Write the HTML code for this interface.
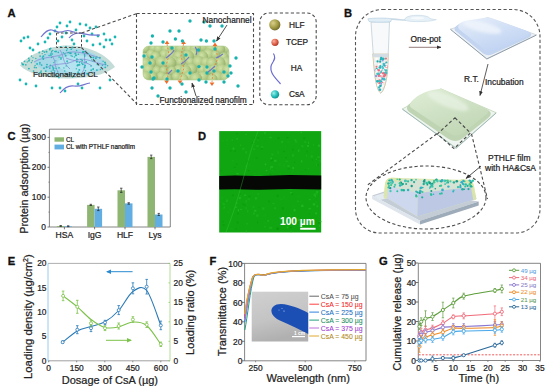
<!DOCTYPE html>
<html><head><meta charset="utf-8"><style>
html,body{margin:0;padding:0;background:#fff;}
body{width:550px;height:391px;overflow:hidden;}
svg{display:block;}
text{font-family:"Liberation Sans",sans-serif;}
</style></head><body>
<svg width="550" height="391" viewBox="0 0 550 391" font-family="Liberation Sans, sans-serif">
<defs>
<radialGradient id="gHLF" cx="0.35" cy="0.35" r="0.7"><stop offset="0" stop-color="#d8d08a"/><stop offset="0.6" stop-color="#a39a45"/><stop offset="1" stop-color="#6e6a28"/></radialGradient>
<radialGradient id="gTCEP" cx="0.35" cy="0.35" r="0.7"><stop offset="0" stop-color="#f7b0a0"/><stop offset="0.6" stop-color="#e06048"/><stop offset="1" stop-color="#a83a28"/></radialGradient>
<radialGradient id="gCsA" cx="0.35" cy="0.35" r="0.7"><stop offset="0" stop-color="#9af0ec"/><stop offset="0.6" stop-color="#20bcb8"/><stop offset="1" stop-color="#108a88"/></radialGradient>
<radialGradient id="gLens" cx="0.5" cy="0.7" r="0.6"><stop offset="0" stop-color="#a8e4ee"/><stop offset="0.6" stop-color="#b4dce0"/><stop offset="1" stop-color="#c8dcd8"/></radialGradient>
<linearGradient id="gSheetB" x1="0" y1="0" x2="0.6" y2="1"><stop offset="0" stop-color="#e6eef9"/><stop offset="0.5" stop-color="#d2e0f6"/><stop offset="1" stop-color="#bed2f2"/></linearGradient>
<linearGradient id="gSheetG" x1="0" y1="0" x2="0.6" y2="1"><stop offset="0" stop-color="#dfeed6"/><stop offset="0.5" stop-color="#d0e2c6"/><stop offset="1" stop-color="#c2d8b6"/></linearGradient>
<linearGradient id="gPhoto" x1="0" y1="0" x2="0.25" y2="1"><stop offset="0" stop-color="#d0d0d0"/><stop offset="0.6" stop-color="#c4c4c4"/><stop offset="1" stop-color="#b0b0b0"/></linearGradient>
<linearGradient id="gTube" x1="0" y1="0" x2="1" y2="0"><stop offset="0" stop-color="#dfe8ee"/><stop offset="0.5" stop-color="#f6f9fb"/><stop offset="1" stop-color="#d6e2ea"/></linearGradient>
<linearGradient id="gBlock" x1="0" y1="0" x2="0" y2="1"><stop offset="0" stop-color="#cce0ac"/><stop offset="1" stop-color="#b0c890"/></linearGradient>
<marker id="ah" viewBox="0 0 10 10" refX="9" refY="5" markerWidth="6" markerHeight="6" orient="auto"><path d="M0,1 L10,5 L0,9 z" fill="#333"/></marker>
</defs>
<text x="7.5" y="16.6" font-size="11.2" text-anchor="start" fill="#111" font-weight="bold" stroke="#111" stroke-width="0.3" >A</text>
<path d="M20,65.5 C26,57 40,49 60,46 C82,43.5 105,52 115,67 C105,75 88,78.5 68,78.5 C46,78.5 28,74 20,65.5 Z" fill="#c4dcd8"/>
<path d="M34,62 C42,53 56,49 72,48.5 C90,49 102,57 107,66 C99,73 86,75.5 70,75.5 C54,75.5 40,71 34,62 Z" fill="#a6d8e8"/>
<path d="M58,62 C64,55 74,54 86,56 C96,59 100,64 100,68 C92,72 82,73.5 72,72.5 C62,71 57,66 58,62 Z" fill="#b4e4f0"/>
<path d="M34,62 C44,56 56,58 66,53 C76,50 88,54 100,58" stroke="#8a90d6" stroke-width="1" fill="none" opacity="0.8"/>
<path d="M46,68 C56,62 66,66 76,60 C86,57 94,63 106,65" stroke="#8a90d6" stroke-width="1" fill="none" opacity="0.8"/>
<path d="M60,50 C64,56 62,62 70,69" stroke="#8a90d6" stroke-width="1" fill="none" opacity="0.8"/>
<path d="M86,50 C82,58 88,64 82,73" stroke="#8a90d6" stroke-width="1" fill="none" opacity="0.8"/>
<path d="M66,58 C74,62 84,60 92,66" stroke="#8a90d6" stroke-width="1" fill="none" opacity="0.8"/>
<path d="M52,56 C56,60 54,66 58,72" stroke="#8a90d6" stroke-width="1" fill="none" opacity="0.8"/>
<circle cx="36.3" cy="67.8" r="0.82" fill="#1eb2b2" opacity="0.9"/>
<circle cx="41.1" cy="71.2" r="0.83" fill="#1eb2b2" opacity="0.9"/>
<circle cx="68.0" cy="52.8" r="0.78" fill="#1eb2b2" opacity="0.9"/>
<circle cx="102.4" cy="65.3" r="0.77" fill="#1eb2b2" opacity="0.9"/>
<circle cx="67.3" cy="48.8" r="0.78" fill="#1eb2b2" opacity="0.9"/>
<circle cx="72.3" cy="56.3" r="0.72" fill="#1eb2b2" opacity="0.9"/>
<circle cx="91.2" cy="70.2" r="0.91" fill="#1eb2b2" opacity="0.9"/>
<circle cx="32.4" cy="60.7" r="0.72" fill="#1eb2b2" opacity="0.9"/>
<circle cx="59.1" cy="57.1" r="0.79" fill="#1eb2b2" opacity="0.9"/>
<circle cx="67.1" cy="61.2" r="0.91" fill="#1eb2b2" opacity="0.9"/>
<circle cx="41.6" cy="65.1" r="0.87" fill="#1eb2b2" opacity="0.9"/>
<circle cx="76.5" cy="55.1" r="0.67" fill="#1eb2b2" opacity="0.9"/>
<circle cx="84.6" cy="67.3" r="0.99" fill="#1eb2b2" opacity="0.9"/>
<circle cx="58.9" cy="77.6" r="0.86" fill="#1eb2b2" opacity="0.9"/>
<circle cx="103.1" cy="61.2" r="0.74" fill="#1eb2b2" opacity="0.9"/>
<circle cx="93.0" cy="60.9" r="0.67" fill="#1eb2b2" opacity="0.9"/>
<circle cx="45.0" cy="54.6" r="0.71" fill="#1eb2b2" opacity="0.9"/>
<circle cx="40.7" cy="72.7" r="0.96" fill="#1eb2b2" opacity="0.9"/>
<circle cx="76.9" cy="59.1" r="0.95" fill="#1eb2b2" opacity="0.9"/>
<circle cx="23.2" cy="64.6" r="0.95" fill="#1eb2b2" opacity="0.9"/>
<circle cx="75.3" cy="53.5" r="0.99" fill="#1eb2b2" opacity="0.9"/>
<circle cx="71.1" cy="55.7" r="0.73" fill="#1eb2b2" opacity="0.9"/>
<circle cx="56.1" cy="68.4" r="0.67" fill="#1eb2b2" opacity="0.9"/>
<circle cx="87.1" cy="73.8" r="0.93" fill="#1eb2b2" opacity="0.9"/>
<circle cx="87.2" cy="53.3" r="0.76" fill="#1eb2b2" opacity="0.9"/>
<circle cx="67.8" cy="63.1" r="0.68" fill="#1eb2b2" opacity="0.9"/>
<circle cx="76.9" cy="61.8" r="0.99" fill="#1eb2b2" opacity="0.9"/>
<circle cx="49.8" cy="68.1" r="0.85" fill="#1eb2b2" opacity="0.9"/>
<circle cx="91.7" cy="59.8" r="0.66" fill="#1eb2b2" opacity="0.9"/>
<circle cx="81.0" cy="59.6" r="0.79" fill="#1eb2b2" opacity="0.9"/>
<circle cx="58.3" cy="52.4" r="0.80" fill="#1eb2b2" opacity="0.9"/>
<circle cx="44.0" cy="68.2" r="0.90" fill="#1eb2b2" opacity="0.9"/>
<circle cx="63.4" cy="52.8" r="0.82" fill="#1eb2b2" opacity="0.9"/>
<circle cx="28.9" cy="60.8" r="0.90" fill="#1eb2b2" opacity="0.9"/>
<circle cx="79.3" cy="70.0" r="0.95" fill="#1eb2b2" opacity="0.9"/>
<circle cx="78.2" cy="72.2" r="1.00" fill="#1eb2b2" opacity="0.9"/>
<circle cx="72.5" cy="47.6" r="0.98" fill="#1eb2b2" opacity="0.9"/>
<circle cx="40.1" cy="56.1" r="0.89" fill="#1eb2b2" opacity="0.9"/>
<circle cx="51.0" cy="53.4" r="0.70" fill="#1eb2b2" opacity="0.9"/>
<circle cx="84.3" cy="51.6" r="0.75" fill="#1eb2b2" opacity="0.9"/>
<circle cx="56.2" cy="76.0" r="0.80" fill="#1eb2b2" opacity="0.9"/>
<circle cx="78.4" cy="54.3" r="0.78" fill="#1eb2b2" opacity="0.9"/>
<circle cx="46.3" cy="51.2" r="0.66" fill="#1eb2b2" opacity="0.9"/>
<circle cx="21.7" cy="63.0" r="0.76" fill="#1eb2b2" opacity="0.9"/>
<circle cx="33.6" cy="71.1" r="0.84" fill="#1eb2b2" opacity="0.9"/>
<circle cx="22.6" cy="64.2" r="0.96" fill="#1eb2b2" opacity="0.9"/>
<circle cx="77.4" cy="65.5" r="0.93" fill="#1eb2b2" opacity="0.9"/>
<circle cx="52.4" cy="53.9" r="0.75" fill="#1eb2b2" opacity="0.9"/>
<circle cx="27.3" cy="61.9" r="0.72" fill="#1eb2b2" opacity="0.9"/>
<circle cx="24.5" cy="61.3" r="0.88" fill="#1eb2b2" opacity="0.9"/>
<circle cx="59.0" cy="67.8" r="0.83" fill="#1eb2b2" opacity="0.9"/>
<circle cx="53.8" cy="62.6" r="0.71" fill="#1eb2b2" opacity="0.9"/>
<circle cx="105.3" cy="67.4" r="0.92" fill="#1eb2b2" opacity="0.9"/>
<circle cx="105.0" cy="62.6" r="0.99" fill="#1eb2b2" opacity="0.9"/>
<circle cx="57.3" cy="76.1" r="0.93" fill="#1eb2b2" opacity="0.9"/>
<circle cx="78.1" cy="65.0" r="0.88" fill="#1eb2b2" opacity="0.9"/>
<circle cx="93.1" cy="69.4" r="0.78" fill="#1eb2b2" opacity="0.9"/>
<circle cx="28.7" cy="58.4" r="0.84" fill="#1eb2b2" opacity="0.9"/>
<circle cx="96.8" cy="57.0" r="0.66" fill="#1eb2b2" opacity="0.9"/>
<circle cx="82.9" cy="52.0" r="0.97" fill="#1eb2b2" opacity="0.9"/>
<circle cx="69.6" cy="74.5" r="0.69" fill="#1eb2b2" opacity="0.9"/>
<circle cx="43.3" cy="59.0" r="0.92" fill="#1eb2b2" opacity="0.9"/>
<circle cx="61.0" cy="57.5" r="0.74" fill="#1eb2b2" opacity="0.9"/>
<circle cx="97.5" cy="64.4" r="0.91" fill="#1eb2b2" opacity="0.9"/>
<circle cx="82.8" cy="64.2" r="1.00" fill="#1eb2b2" opacity="0.9"/>
<circle cx="39.3" cy="52.5" r="0.93" fill="#1eb2b2" opacity="0.9"/>
<circle cx="65.9" cy="46.8" r="0.94" fill="#1eb2b2" opacity="0.9"/>
<circle cx="79.4" cy="64.8" r="0.95" fill="#1eb2b2" opacity="0.9"/>
<circle cx="90.9" cy="57.4" r="0.92" fill="#1eb2b2" opacity="0.9"/>
<circle cx="39.5" cy="73.0" r="0.68" fill="#1eb2b2" opacity="0.9"/>
<circle cx="84.5" cy="54.8" r="0.72" fill="#1eb2b2" opacity="0.9"/>
<circle cx="84.8" cy="56.1" r="0.78" fill="#1eb2b2" opacity="0.9"/>
<circle cx="53.2" cy="69.9" r="0.81" fill="#1eb2b2" opacity="0.9"/>
<circle cx="68.8" cy="52.4" r="0.66" fill="#1eb2b2" opacity="0.9"/>
<circle cx="66.6" cy="50.4" r="0.76" fill="#1eb2b2" opacity="0.9"/>
<circle cx="51.5" cy="52.1" r="0.72" fill="#1eb2b2" opacity="0.9"/>
<circle cx="35.1" cy="65.6" r="0.73" fill="#1eb2b2" opacity="0.9"/>
<circle cx="31.4" cy="62.6" r="0.79" fill="#1eb2b2" opacity="0.9"/>
<circle cx="39.9" cy="64.0" r="0.83" fill="#1eb2b2" opacity="0.9"/>
<circle cx="49.1" cy="55.5" r="0.78" fill="#1eb2b2" opacity="0.9"/>
<circle cx="67.4" cy="74.4" r="0.85" fill="#1eb2b2" opacity="0.9"/>
<circle cx="93.2" cy="68.8" r="0.71" fill="#1eb2b2" opacity="0.9"/>
<circle cx="52.7" cy="66.9" r="0.79" fill="#1eb2b2" opacity="0.9"/>
<circle cx="51.2" cy="71.2" r="0.70" fill="#1eb2b2" opacity="0.9"/>
<circle cx="49.7" cy="48.7" r="0.80" fill="#1eb2b2" opacity="0.9"/>
<circle cx="42.5" cy="57.3" r="0.80" fill="#1eb2b2" opacity="0.9"/>
<circle cx="85.2" cy="65.7" r="0.84" fill="#1eb2b2" opacity="0.9"/>
<circle cx="54.8" cy="51.5" r="0.76" fill="#1eb2b2" opacity="0.9"/>
<circle cx="51.7" cy="51.2" r="0.80" fill="#1eb2b2" opacity="0.9"/>
<circle cx="83.0" cy="52.6" r="0.81" fill="#1eb2b2" opacity="0.9"/>
<circle cx="47.0" cy="64.6" r="0.89" fill="#1eb2b2" opacity="0.9"/>
<circle cx="65.7" cy="55.8" r="0.95" fill="#1eb2b2" opacity="0.9"/>
<circle cx="34.6" cy="67.4" r="0.89" fill="#1eb2b2" opacity="0.9"/>
<circle cx="51.5" cy="57.5" r="0.71" fill="#1eb2b2" opacity="0.9"/>
<circle cx="45.8" cy="71.2" r="0.91" fill="#1eb2b2" opacity="0.9"/>
<circle cx="86.2" cy="62.0" r="0.88" fill="#1eb2b2" opacity="0.9"/>
<circle cx="33.0" cy="57.7" r="0.65" fill="#1eb2b2" opacity="0.9"/>
<circle cx="29.6" cy="60.0" r="0.67" fill="#1eb2b2" opacity="0.9"/>
<circle cx="53.5" cy="68.2" r="0.99" fill="#1eb2b2" opacity="0.9"/>
<circle cx="52.7" cy="50.5" r="0.72" fill="#1eb2b2" opacity="0.9"/>
<circle cx="37.1" cy="63.9" r="0.95" fill="#1eb2b2" opacity="0.9"/>
<circle cx="44.5" cy="52.1" r="0.93" fill="#1eb2b2" opacity="0.9"/>
<circle cx="100.5" cy="69.6" r="0.74" fill="#1eb2b2" opacity="0.9"/>
<circle cx="50.9" cy="55.0" r="0.96" fill="#1eb2b2" opacity="0.9"/>
<circle cx="63.9" cy="67.9" r="0.72" fill="#1eb2b2" opacity="0.9"/>
<circle cx="28.9" cy="68.6" r="0.97" fill="#1eb2b2" opacity="0.9"/>
<circle cx="49.8" cy="49.7" r="0.87" fill="#1eb2b2" opacity="0.9"/>
<circle cx="74.4" cy="57.0" r="0.79" fill="#1eb2b2" opacity="0.9"/>
<circle cx="35.8" cy="58.6" r="0.74" fill="#1eb2b2" opacity="0.9"/>
<circle cx="43.3" cy="56.3" r="0.94" fill="#1eb2b2" opacity="0.9"/>
<circle cx="82.2" cy="60.6" r="0.89" fill="#1eb2b2" opacity="0.9"/>
<circle cx="50.3" cy="65.3" r="0.84" fill="#1eb2b2" opacity="0.9"/>
<circle cx="91.0" cy="65.9" r="0.74" fill="#1eb2b2" opacity="0.9"/>
<circle cx="88.3" cy="53.8" r="0.80" fill="#1eb2b2" opacity="0.9"/>
<circle cx="70.8" cy="53.2" r="0.95" fill="#1eb2b2" opacity="0.9"/>
<circle cx="39.9" cy="62.7" r="0.83" fill="#1eb2b2" opacity="0.9"/>
<circle cx="72.5" cy="77.0" r="0.73" fill="#1eb2b2" opacity="0.9"/>
<circle cx="61.0" cy="58.9" r="0.89" fill="#1eb2b2" opacity="0.9"/>
<circle cx="56.0" cy="51.5" r="1.00" fill="#1eb2b2" opacity="0.9"/>
<circle cx="107.6" cy="65.8" r="0.82" fill="#1eb2b2" opacity="0.9"/>
<circle cx="60.8" cy="46.9" r="0.98" fill="#1eb2b2" opacity="0.9"/>
<circle cx="42.8" cy="51.1" r="0.93" fill="#1eb2b2" opacity="0.9"/>
<circle cx="76.3" cy="68.8" r="0.68" fill="#1eb2b2" opacity="0.9"/>
<circle cx="65.7" cy="73.4" r="0.71" fill="#1eb2b2" opacity="0.9"/>
<circle cx="57.9" cy="72.1" r="0.66" fill="#1eb2b2" opacity="0.9"/>
<circle cx="83.5" cy="51.8" r="0.71" fill="#1eb2b2" opacity="0.9"/>
<circle cx="31.5" cy="56.1" r="0.78" fill="#1eb2b2" opacity="0.9"/>
<circle cx="81.7" cy="63.1" r="0.82" fill="#1eb2b2" opacity="0.9"/>
<circle cx="69.8" cy="53.3" r="0.82" fill="#1eb2b2" opacity="0.9"/>
<circle cx="50.7" cy="48.3" r="0.88" fill="#1eb2b2" opacity="0.9"/>
<circle cx="96.9" cy="70.1" r="0.93" fill="#1eb2b2" opacity="0.9"/>
<circle cx="64.9" cy="54.0" r="0.80" fill="#1eb2b2" opacity="0.9"/>
<circle cx="93.3" cy="57.5" r="0.98" fill="#1eb2b2" opacity="0.9"/>
<circle cx="54.7" cy="71.0" r="0.75" fill="#1eb2b2" opacity="0.9"/>
<circle cx="46.5" cy="66.9" r="0.98" fill="#1eb2b2" opacity="0.9"/>
<circle cx="64.7" cy="71.1" r="0.77" fill="#1eb2b2" opacity="0.9"/>
<circle cx="42.2" cy="53.6" r="0.70" fill="#1eb2b2" opacity="0.9"/>
<circle cx="79.5" cy="62.5" r="0.83" fill="#1eb2b2" opacity="0.9"/>
<circle cx="66.7" cy="74.8" r="0.70" fill="#1eb2b2" opacity="0.9"/>
<circle cx="95.8" cy="58.2" r="0.99" fill="#1eb2b2" opacity="0.9"/>
<circle cx="46.7" cy="51.8" r="0.91" fill="#1eb2b2" opacity="0.9"/>
<circle cx="25.8" cy="64.8" r="0.91" fill="#1eb2b2" opacity="0.9"/>
<circle cx="55.8" cy="60.8" r="0.66" fill="#1eb2b2" opacity="0.9"/>
<circle cx="71.2" cy="49.2" r="0.84" fill="#1eb2b2" opacity="0.9"/>
<circle cx="75.8" cy="55.4" r="0.90" fill="#1eb2b2" opacity="0.9"/>
<circle cx="105.6" cy="64.2" r="0.87" fill="#1eb2b2" opacity="0.9"/>
<circle cx="76.6" cy="50.6" r="0.74" fill="#1eb2b2" opacity="0.9"/>
<circle cx="99.9" cy="57.8" r="0.93" fill="#1eb2b2" opacity="0.9"/>
<circle cx="85.5" cy="70.8" r="0.77" fill="#1eb2b2" opacity="0.9"/>
<circle cx="66.2" cy="65.9" r="0.74" fill="#1eb2b2" opacity="0.9"/>
<circle cx="21" cy="41" r="1.4" fill="#1ab6b4"/>
<circle cx="24" cy="38" r="1.4" fill="#1ab6b4"/>
<circle cx="28" cy="37" r="1.4" fill="#1ab6b4"/>
<circle cx="30" cy="48" r="1.4" fill="#1ab6b4"/>
<circle cx="33" cy="50" r="1.4" fill="#1ab6b4"/>
<circle cx="50" cy="34" r="1.4" fill="#1ab6b4"/>
<circle cx="55" cy="31" r="1.4" fill="#1ab6b4"/>
<circle cx="57" cy="27" r="1.4" fill="#1ab6b4"/>
<circle cx="60" cy="23" r="1.4" fill="#1ab6b4"/>
<circle cx="67" cy="26" r="1.4" fill="#1ab6b4"/>
<circle cx="70" cy="22" r="1.4" fill="#1ab6b4"/>
<circle cx="80" cy="24" r="1.4" fill="#1ab6b4"/>
<circle cx="86" cy="25" r="1.4" fill="#1ab6b4"/>
<circle cx="92" cy="34" r="1.4" fill="#1ab6b4"/>
<circle cx="98" cy="36" r="1.4" fill="#1ab6b4"/>
<circle cx="104" cy="34" r="1.4" fill="#1ab6b4"/>
<circle cx="106" cy="40" r="1.4" fill="#1ab6b4"/>
<circle cx="110" cy="40" r="1.4" fill="#1ab6b4"/>
<circle cx="112" cy="44" r="1.4" fill="#1ab6b4"/>
<circle cx="20" cy="80" r="1.4" fill="#1ab6b4"/>
<circle cx="26" cy="84" r="1.4" fill="#1ab6b4"/>
<circle cx="36" cy="86" r="1.4" fill="#1ab6b4"/>
<circle cx="52" cy="88" r="1.4" fill="#1ab6b4"/>
<circle cx="60" cy="88" r="1.4" fill="#1ab6b4"/>
<circle cx="65" cy="91" r="1.4" fill="#1ab6b4"/>
<circle cx="78" cy="84" r="1.4" fill="#1ab6b4"/>
<circle cx="82" cy="88" r="1.4" fill="#1ab6b4"/>
<circle cx="100" cy="88" r="1.4" fill="#1ab6b4"/>
<circle cx="110" cy="80" r="1.4" fill="#1ab6b4"/>
<circle cx="48" cy="38" r="1.4" fill="#1ab6b4"/>
<circle cx="72" cy="40" r="1.4" fill="#1ab6b4"/>
<circle cx="84" cy="36" r="1.4" fill="#1ab6b4"/>
<circle cx="115" cy="37" r="1.4" fill="#1ab6b4"/>
<circle cx="62" cy="37" r="1.4" fill="#1ab6b4"/>
<circle cx="66" cy="33" r="1.4" fill="#1ab6b4"/>
<circle cx="76" cy="30" r="1.4" fill="#1ab6b4"/>
<circle cx="90" cy="28" r="1.4" fill="#1ab6b4"/>
<circle cx="96" cy="27" r="1.4" fill="#1ab6b4"/>
<circle cx="45" cy="42" r="1.4" fill="#1ab6b4"/>
<circle cx="38" cy="44" r="1.4" fill="#1ab6b4"/>
<circle cx="100" cy="44" r="1.4" fill="#1ab6b4"/>
<circle cx="104" cy="47" r="1.4" fill="#1ab6b4"/>
<circle cx="58" cy="41" r="1.4" fill="#1ab6b4"/>
<circle cx="74" cy="44" r="1.4" fill="#1ab6b4"/>
<circle cx="87" cy="41" r="1.4" fill="#1ab6b4"/>
<circle cx="93" cy="45" r="1.4" fill="#1ab6b4"/>
<path d="M41,37 C45,32 48,29 52,30 C57,32 60,33 65,31 C70,29 72,33 75,32" stroke="#7474d0" stroke-width="1.2" fill="none"/>
<path d="M69,38 C72,34 76,33 80,33 C85,34 90,36 100,35" stroke="#7474d0" stroke-width="1.2" fill="none"/>
<path d="M60,93 C64,88 68,85 74,86 C80,87 84,84 90,83" stroke="#7474d0" stroke-width="1.2" fill="none"/>
<rect x="56.5" y="33" width="25" height="14.5" fill="none" stroke="#4a4a4a" stroke-width="1.0" stroke-dasharray="2.6,1.9"/>
<path d="M81.5,33 L137,13.5 M81.5,47.5 L137,104" stroke="#4a4a4a" stroke-width="1.1" stroke-dasharray="3.2,2.3" fill="none"/>
<text x="33" y="77.3" font-size="8.1" text-anchor="start" fill="#222" font-weight="normal" stroke="#222" stroke-width="0.22" >Functionalized CL</text>
<rect x="136.5" y="13.5" width="117" height="91" fill="none" stroke="#4a4a4a" stroke-width="1.1" stroke-dasharray="3.2,2.3"/>
<rect x="143" y="46" width="86" height="34" rx="6" fill="url(#gBlock)"/>
<radialGradient id="gBump" cx="0.4" cy="0.35" r="0.65"><stop offset="0" stop-color="#d0e2a6"/><stop offset="0.5" stop-color="#b6ce8a"/><stop offset="1" stop-color="#94ae6c"/></radialGradient>
<clipPath id="cpBlock"><rect x="143" y="46" width="86" height="34" rx="6"/></clipPath>
<g clip-path="url(#cpBlock)">
<circle cx="203.6" cy="46.6" r="6.2" fill="url(#gBump)"/>
<circle cx="227.5" cy="47.8" r="6.4" fill="url(#gBump)"/>
<circle cx="176.5" cy="47.9" r="5.8" fill="url(#gBump)"/>
<circle cx="145.0" cy="48.1" r="5.2" fill="url(#gBump)"/>
<circle cx="153.7" cy="48.4" r="4.6" fill="url(#gBump)"/>
<circle cx="181.1" cy="48.4" r="6.2" fill="url(#gBump)"/>
<circle cx="211.6" cy="48.7" r="6.3" fill="url(#gBump)"/>
<circle cx="189.9" cy="48.7" r="5.8" fill="url(#gBump)"/>
<circle cx="195.4" cy="48.8" r="5.7" fill="url(#gBump)"/>
<circle cx="158.7" cy="49.0" r="5.0" fill="url(#gBump)"/>
<circle cx="219.9" cy="49.3" r="5.3" fill="url(#gBump)"/>
<circle cx="166.8" cy="49.5" r="5.4" fill="url(#gBump)"/>
<circle cx="151.0" cy="54.3" r="4.8" fill="url(#gBump)"/>
<circle cx="194.0" cy="54.5" r="6.2" fill="url(#gBump)"/>
<circle cx="208.8" cy="54.6" r="6.2" fill="url(#gBump)"/>
<circle cx="215.5" cy="54.9" r="4.6" fill="url(#gBump)"/>
<circle cx="164.6" cy="54.9" r="5.5" fill="url(#gBump)"/>
<circle cx="170.9" cy="55.1" r="5.7" fill="url(#gBump)"/>
<circle cx="231.0" cy="55.2" r="4.8" fill="url(#gBump)"/>
<circle cx="187.7" cy="56.6" r="6.5" fill="url(#gBump)"/>
<circle cx="179.0" cy="56.7" r="5.9" fill="url(#gBump)"/>
<circle cx="202.5" cy="56.7" r="5.6" fill="url(#gBump)"/>
<circle cx="155.7" cy="56.9" r="5.4" fill="url(#gBump)"/>
<circle cx="223.9" cy="57.0" r="4.7" fill="url(#gBump)"/>
<circle cx="174.4" cy="61.7" r="5.7" fill="url(#gBump)"/>
<circle cx="190.2" cy="62.0" r="4.6" fill="url(#gBump)"/>
<circle cx="180.6" cy="62.1" r="5.3" fill="url(#gBump)"/>
<circle cx="198.6" cy="62.4" r="6.4" fill="url(#gBump)"/>
<circle cx="161.5" cy="62.5" r="6.3" fill="url(#gBump)"/>
<circle cx="206.0" cy="62.6" r="5.4" fill="url(#gBump)"/>
<circle cx="226.3" cy="62.8" r="5.9" fill="url(#gBump)"/>
<circle cx="169.8" cy="63.0" r="6.5" fill="url(#gBump)"/>
<circle cx="151.5" cy="63.3" r="4.6" fill="url(#gBump)"/>
<circle cx="219.2" cy="63.4" r="6.4" fill="url(#gBump)"/>
<circle cx="211.8" cy="63.4" r="5.7" fill="url(#gBump)"/>
<circle cx="145.2" cy="63.8" r="6.2" fill="url(#gBump)"/>
<circle cx="191.4" cy="69.2" r="5.9" fill="url(#gBump)"/>
<circle cx="202.5" cy="69.8" r="5.4" fill="url(#gBump)"/>
<circle cx="148.5" cy="69.9" r="6.5" fill="url(#gBump)"/>
<circle cx="208.3" cy="70.0" r="5.2" fill="url(#gBump)"/>
<circle cx="214.5" cy="70.1" r="5.7" fill="url(#gBump)"/>
<circle cx="221.7" cy="70.1" r="6.0" fill="url(#gBump)"/>
<circle cx="179.2" cy="70.4" r="5.9" fill="url(#gBump)"/>
<circle cx="156.9" cy="70.6" r="4.5" fill="url(#gBump)"/>
<circle cx="227.9" cy="70.7" r="6.0" fill="url(#gBump)"/>
<circle cx="163.8" cy="70.7" r="4.5" fill="url(#gBump)"/>
<circle cx="171.9" cy="70.9" r="4.6" fill="url(#gBump)"/>
<circle cx="185.4" cy="71.1" r="6.0" fill="url(#gBump)"/>
<circle cx="161.4" cy="76.8" r="5.1" fill="url(#gBump)"/>
<circle cx="188.7" cy="76.9" r="5.6" fill="url(#gBump)"/>
<circle cx="176.6" cy="77.0" r="5.2" fill="url(#gBump)"/>
<circle cx="152.3" cy="77.1" r="5.4" fill="url(#gBump)"/>
<circle cx="145.2" cy="77.2" r="6.1" fill="url(#gBump)"/>
<circle cx="203.1" cy="77.3" r="6.1" fill="url(#gBump)"/>
<circle cx="217.5" cy="77.4" r="6.1" fill="url(#gBump)"/>
<circle cx="225.4" cy="77.5" r="5.3" fill="url(#gBump)"/>
<circle cx="212.3" cy="78.9" r="5.2" fill="url(#gBump)"/>
<circle cx="195.9" cy="78.9" r="6.2" fill="url(#gBump)"/>
<circle cx="167.2" cy="79.0" r="5.4" fill="url(#gBump)"/>
<circle cx="183.1" cy="79.2" r="5.4" fill="url(#gBump)"/>
</g>
<rect x="143" y="46" width="86" height="34" rx="6" fill="none" stroke="#b4cc94" stroke-width="0.6"/>
<path d="M167,44 L169,55 L166,66 L168,78" stroke="#f07a30" stroke-width="0.9" stroke-dasharray="2,1.6" fill="none" opacity="0.9"/>
<path d="M183.6,44 L181,56 L184,68 L180,80" stroke="#f07a30" stroke-width="0.9" stroke-dasharray="2,1.6" fill="none" opacity="0.9"/>
<path d="M215,46 L218,58 L213,70 L212,82" stroke="#f07a30" stroke-width="0.9" stroke-dasharray="2,1.6" fill="none" opacity="0.9"/>
<path d="M164.6,44.1 L167,40.5 L169.4,44.1 Z" fill="#f06a28"/>
<path d="M181.2,44.1 L183.6,40.5 L186.0,44.1 Z" fill="#f06a28"/>
<path d="M212.6,46.1 L215,42.5 L217.4,46.1 Z" fill="#f06a28"/>
<path d="M164.2,80.4 L166.6,84 L169.0,80.4 Z" fill="#f06a28"/>
<path d="M177.6,80.4 L180,84 L182.4,80.4 Z" fill="#f06a28"/>
<path d="M209.6,82.4 L212,86 L214.4,82.4 Z" fill="#f06a28"/>
<path d="M166,58 C170,55 173,53 174,50" stroke="#7078c8" stroke-width="1.1" fill="none"/>
<path d="M181,64 C184,62 187,60 189,57" stroke="#7078c8" stroke-width="1.1" fill="none"/>
<path d="M196,55 C198,50 196,48 195,47" stroke="#7078c8" stroke-width="1.1" fill="none"/>
<path d="M208,72 C211,70 213,68 215,66" stroke="#7078c8" stroke-width="1.1" fill="none"/>
<path d="M216,58 C219,57 221,55 223,54" stroke="#7078c8" stroke-width="1.1" fill="none"/>
<path d="M168,74 L172,70" stroke="#7078c8" stroke-width="1.1" fill="none"/>
<circle cx="152.4" cy="36" r="1.7" fill="#18b2ae"/>
<circle cx="151" cy="43" r="1.7" fill="#18b2ae"/>
<circle cx="163" cy="42" r="1.7" fill="#18b2ae"/>
<circle cx="170" cy="31" r="1.7" fill="#18b2ae"/>
<circle cx="179" cy="31" r="1.7" fill="#18b2ae"/>
<circle cx="175.4" cy="39" r="1.7" fill="#18b2ae"/>
<circle cx="182.4" cy="41" r="1.7" fill="#18b2ae"/>
<circle cx="198.4" cy="50" r="1.7" fill="#18b2ae"/>
<circle cx="201" cy="40" r="1.7" fill="#18b2ae"/>
<circle cx="206.4" cy="41" r="1.7" fill="#18b2ae"/>
<circle cx="214" cy="41" r="1.7" fill="#18b2ae"/>
<circle cx="215" cy="49" r="1.7" fill="#18b2ae"/>
<circle cx="152" cy="57" r="1.7" fill="#18b2ae"/>
<circle cx="163" cy="63" r="1.7" fill="#18b2ae"/>
<circle cx="150" cy="63" r="1.7" fill="#18b2ae"/>
<circle cx="142" cy="67" r="1.7" fill="#18b2ae"/>
<circle cx="151" cy="72" r="1.7" fill="#18b2ae"/>
<circle cx="153" cy="79" r="1.7" fill="#18b2ae"/>
<circle cx="178" cy="71" r="1.7" fill="#18b2ae"/>
<circle cx="190" cy="73" r="1.7" fill="#18b2ae"/>
<circle cx="199" cy="66.6" r="1.7" fill="#18b2ae"/>
<circle cx="207" cy="67" r="1.7" fill="#18b2ae"/>
<circle cx="207" cy="73" r="1.7" fill="#18b2ae"/>
<circle cx="214" cy="71" r="1.7" fill="#18b2ae"/>
<circle cx="224" cy="72" r="1.7" fill="#18b2ae"/>
<circle cx="230" cy="66" r="1.7" fill="#18b2ae"/>
<circle cx="228" cy="76" r="1.7" fill="#18b2ae"/>
<circle cx="224" cy="82" r="1.7" fill="#18b2ae"/>
<circle cx="206" cy="82" r="1.7" fill="#18b2ae"/>
<circle cx="182" cy="84" r="1.7" fill="#18b2ae"/>
<circle cx="167" cy="79" r="1.7" fill="#18b2ae"/>
<circle cx="199" cy="80" r="1.7" fill="#18b2ae"/>
<circle cx="154" cy="78" r="1.7" fill="#18b2ae"/>
<circle cx="238" cy="86" r="1.7" fill="#18b2ae"/>
<circle cx="231" cy="73" r="1.7" fill="#18b2ae"/>
<circle cx="152" cy="88" r="1.7" fill="#18b2ae"/>
<circle cx="170" cy="88" r="1.7" fill="#18b2ae"/>
<circle cx="190" cy="21" r="1.7" fill="#18b2ae"/>
<circle cx="204" cy="22" r="1.7" fill="#18b2ae"/>
<circle cx="210" cy="26" r="1.7" fill="#18b2ae"/>
<circle cx="222" cy="26" r="1.7" fill="#18b2ae"/>
<circle cx="158" cy="96" r="1.7" fill="#18b2ae"/>
<circle cx="186" cy="92" r="1.7" fill="#18b2ae"/>
<circle cx="236" cy="58" r="1.7" fill="#18b2ae"/>
<circle cx="144" cy="56" r="1.7" fill="#18b2ae"/>
<circle cx="186" cy="55" r="1.7" fill="#18b2ae"/>
<circle cx="172" cy="48" r="1.7" fill="#18b2ae"/>
<text x="202.6" y="23.2" font-size="8.3" text-anchor="start" fill="#222" font-weight="normal" stroke="#222" stroke-width="0.22" >Nanochannel</text>
<path d="M227,25 L216.5,41" stroke="#222" stroke-width="0.8" marker-end="url(#ah)"/>
<text x="159.5" y="103" font-size="8.3" text-anchor="start" fill="#222" font-weight="normal" stroke="#222" stroke-width="0.22" >Functionalized nanofilm</text>
<path d="M196,96 L192,83" stroke="#222" stroke-width="0.8" marker-end="url(#ah)"/>
<rect x="259.8" y="13" width="56.4" height="91.8" rx="9" fill="none" stroke="#4a4a4a" stroke-width="1.1" stroke-dasharray="3.2,2.3"/>
<circle cx="274.8" cy="24.8" r="5.6" fill="url(#gHLF)"/>
<circle cx="275" cy="42.3" r="3.6" fill="url(#gTCEP)"/>
<path d="M273.4,53.5 C275.5,56.5 275,59 273,62 C270.5,65.5 270,69 272,73 C274,77 278,81 280.5,84" stroke="#6a6ad0" stroke-width="1.2" fill="none"/>
<circle cx="275" cy="94.4" r="4.2" fill="url(#gCsA)"/>
<text x="288.9" y="27.8" font-size="8.3" text-anchor="start" fill="#222" font-weight="normal" stroke="#222" stroke-width="0.22" >HLF</text>
<text x="286" y="45.3" font-size="8.3" text-anchor="start" fill="#222" font-weight="normal" stroke="#222" stroke-width="0.22" >TCEP</text>
<text x="290.8" y="70.6" font-size="8.3" text-anchor="start" fill="#222" font-weight="normal" stroke="#222" stroke-width="0.22" >HA</text>
<text x="288.9" y="97.4" font-size="8.3" text-anchor="start" fill="#222" font-weight="normal" stroke="#222" stroke-width="0.22" >CsA</text>
<text x="344" y="16.8" font-size="11.2" text-anchor="start" fill="#111" font-weight="bold" stroke="#111" stroke-width="0.3" >B</text>
<path d="M382.5,9.5 L513,9.5 A27,27 0 0 1 540,36.5 L540,209 A24,24 0 0 1 516,233 L379.5,233 A24,24 0 0 1 355.5,209 L355.5,36.5 A27,27 0 0 1 382.5,9.5 Z" fill="none" stroke="#555" stroke-width="1.1" stroke-dasharray="3.2,2.3"/>
<path d="M371,22 L389.5,22 L387.6,70 C386.8,80 384,91.5 380.7,93 C377.5,91.5 375,80 374.3,70 Z" fill="#f7f9fb" stroke="#b0c0cc" stroke-width="0.6"/>
<path d="M372.6,54 L388.3,54 L387.6,70 C386.8,80 384,91.5 380.7,93 C377.5,91.5 375,80 374.3,70 Z" fill="#eeeeea" stroke="#c8b888" stroke-width="0.6"/>
<path d="M372.6,54 L388.3,54 L388.1,57 L372.8,57 Z" fill="#d4dde4"/>
<circle cx="382.6" cy="78.6" r="0.9" fill="#ffffff"/>
<circle cx="385.3" cy="73.4" r="1.4" fill="#28b4bc"/>
<circle cx="380.2" cy="61.7" r="1.1" fill="#20a8b0"/>
<circle cx="377.6" cy="61.4" r="1.1" fill="#20a8b0"/>
<circle cx="385.0" cy="64.0" r="1.0" fill="#8aa0e0"/>
<circle cx="378.7" cy="84.3" r="1.1" fill="#f4f4f4"/>
<circle cx="386.3" cy="62.4" r="1.0" fill="#28b4bc"/>
<circle cx="386.4" cy="65.1" r="1.0" fill="#3cc0c8"/>
<circle cx="380.7" cy="89.7" r="1.0" fill="#20a8b0"/>
<circle cx="380.0" cy="90.0" r="1.0" fill="#8aa0e0"/>
<circle cx="376.6" cy="69.9" r="1.0" fill="#3cc0c8"/>
<circle cx="384.4" cy="69.0" r="0.9" fill="#f4f4f4"/>
<circle cx="379.4" cy="80.4" r="1.1" fill="#e87080"/>
<circle cx="383.0" cy="68.1" r="1.1" fill="#3cc0c8"/>
<circle cx="377.5" cy="81.3" r="1.4" fill="#28b4bc"/>
<circle cx="379.5" cy="69.8" r="1.3" fill="#ffffff"/>
<circle cx="381.5" cy="70.1" r="1.1" fill="#28b4bc"/>
<circle cx="381.4" cy="81.4" r="1.0" fill="#20a8b0"/>
<circle cx="384.4" cy="66.1" r="1.1" fill="#ffffff"/>
<circle cx="380.9" cy="69.7" r="1.0" fill="#ffffff"/>
<circle cx="382.4" cy="82.7" r="0.9" fill="#e87080"/>
<circle cx="379.5" cy="89.2" r="1.2" fill="#f09aa8"/>
<circle cx="376.4" cy="70.0" r="1.4" fill="#e87080"/>
<circle cx="378.8" cy="76.0" r="1.1" fill="#f09aa8"/>
<circle cx="381.3" cy="84.4" r="1.4" fill="#e87080"/>
<circle cx="375.2" cy="63.3" r="1.2" fill="#f4f4f4"/>
<circle cx="377.6" cy="71.4" r="1.1" fill="#f4f4f4"/>
<circle cx="382.4" cy="66.3" r="0.9" fill="#3cc0c8"/>
<circle cx="379.1" cy="88.2" r="1.1" fill="#ffffff"/>
<circle cx="386.4" cy="64.8" r="1.4" fill="#f4f4f4"/>
<circle cx="382.9" cy="78.8" r="1.0" fill="#28b4bc"/>
<circle cx="375.4" cy="70.3" r="1.0" fill="#8aa0e0"/>
<circle cx="386.0" cy="73.0" r="1.4" fill="#3cc0c8"/>
<circle cx="380.5" cy="73.0" r="1.1" fill="#f09aa8"/>
<circle cx="379.4" cy="67.6" r="1.0" fill="#3cc0c8"/>
<circle cx="380.8" cy="85.1" r="1.2" fill="#3cc0c8"/>
<circle cx="379.0" cy="74.5" r="1.1" fill="#28b4bc"/>
<circle cx="381.1" cy="75.0" r="1.1" fill="#ffffff"/>
<circle cx="382.1" cy="83.9" r="1.2" fill="#f4f4f4"/>
<circle cx="379.8" cy="83.1" r="1.3" fill="#e87080"/>
<circle cx="386.4" cy="66.7" r="1.4" fill="#e87080"/>
<circle cx="376.7" cy="69.2" r="1.1" fill="#28b4bc"/>
<circle cx="379.6" cy="83.5" r="1.1" fill="#e87080"/>
<circle cx="381.3" cy="85.0" r="1.1" fill="#f09aa8"/>
<circle cx="382.5" cy="79.3" r="1.1" fill="#8aa0e0"/>
<circle cx="382.3" cy="85.8" r="1.4" fill="#ffffff"/>
<circle cx="380.6" cy="89.6" r="1.4" fill="#ffffff"/>
<circle cx="378.9" cy="64.6" r="1.0" fill="#ffffff"/>
<circle cx="382.7" cy="60.6" r="1.0" fill="#8aa0e0"/>
<circle cx="381.1" cy="83.8" r="1.1" fill="#8aa0e0"/>
<circle cx="384.0" cy="76.3" r="1.3" fill="#e87080"/>
<circle cx="376.5" cy="58.9" r="1.2" fill="#ffffff"/>
<circle cx="383.7" cy="64.0" r="1.2" fill="#3cc0c8"/>
<circle cx="380.3" cy="59.4" r="1.0" fill="#20a8b0"/>
<circle cx="379.2" cy="87.4" r="1.1" fill="#3cc0c8"/>
<circle cx="379.8" cy="76.1" r="1.1" fill="#f09aa8"/>
<circle cx="381.4" cy="78.2" r="1.3" fill="#20a8b0"/>
<circle cx="378.8" cy="70.3" r="1.3" fill="#e87080"/>
<circle cx="381.4" cy="86.6" r="1.1" fill="#ffffff"/>
<circle cx="382.0" cy="59.2" r="1.0" fill="#28b4bc"/>
<circle cx="385.0" cy="74.9" r="1.4" fill="#e87080"/>
<circle cx="380.2" cy="85.0" r="1.2" fill="#f4f4f4"/>
<circle cx="376.3" cy="70.2" r="1.1" fill="#f4f4f4"/>
<circle cx="377.5" cy="73.7" r="1.2" fill="#3cc0c8"/>
<circle cx="385.3" cy="69.6" r="1.1" fill="#28b4bc"/>
<circle cx="385.6" cy="68.8" r="1.0" fill="#ffffff"/>
<circle cx="383.8" cy="78.8" r="1.1" fill="#8aa0e0"/>
<circle cx="380.6" cy="90.2" r="1.4" fill="#ffffff"/>
<circle cx="386.0" cy="70.5" r="1.2" fill="#3cc0c8"/>
<circle cx="386.4" cy="66.6" r="1.0" fill="#ffffff"/>
<circle cx="385.9" cy="58.6" r="1.1" fill="#e87080"/>
<circle cx="380.3" cy="67.5" r="1.2" fill="#28b4bc"/>
<circle cx="380.0" cy="89.7" r="1.3" fill="#28b4bc"/>
<circle cx="378.2" cy="85.3" r="1.2" fill="#ffffff"/>
<circle cx="380.3" cy="66.0" r="1.0" fill="#28b4bc"/>
<circle cx="376.5" cy="66.8" r="1.0" fill="#e87080"/>
<circle cx="380.4" cy="78.1" r="1.3" fill="#f4f4f4"/>
<circle cx="378.9" cy="87.5" r="1.1" fill="#3cc0c8"/>
<circle cx="379.0" cy="75.6" r="1.3" fill="#e87080"/>
<circle cx="378.8" cy="58.9" r="1.0" fill="#f4f4f4"/>
<circle cx="381.2" cy="58.1" r="1.3" fill="#28b4bc"/>
<circle cx="376.1" cy="76.0" r="1.2" fill="#8aa0e0"/>
<circle cx="383.8" cy="80.7" r="1.3" fill="#ffffff"/>
<circle cx="380.5" cy="85.8" r="1.3" fill="#20a8b0"/>
<circle cx="383.3" cy="73.3" r="1.3" fill="#e87080"/>
<circle cx="380.1" cy="80.9" r="1.2" fill="#e87080"/>
<circle cx="378.6" cy="73.6" r="1.1" fill="#3cc0c8"/>
<circle cx="380.6" cy="76.1" r="1.2" fill="#f09aa8"/>
<circle cx="381.1" cy="72.0" r="0.9" fill="#28b4bc"/>
<circle cx="384.4" cy="65.6" r="1.2" fill="#28b4bc"/>
<circle cx="383.3" cy="58.8" r="1.4" fill="#28b4bc"/>
<circle cx="377.5" cy="81.1" r="1.0" fill="#28b4bc"/>
<circle cx="384.1" cy="79.3" r="1.4" fill="#3cc0c8"/>
<circle cx="380.2" cy="81.3" r="1.2" fill="#3cc0c8"/>
<circle cx="376.8" cy="71.7" r="1.0" fill="#f4f4f4"/>
<path d="M367.8,18.8 C372,17.8 389,17.8 391.5,18.8 L391,21.4 C388,22.4 372,22.4 369,21.4 Z" fill="#e2eef6" stroke="#a8c4d8" stroke-width="0.5"/>
<path d="M391,19.2 C398,18.8 402,20.5 406,20" stroke="#c8dae6" stroke-width="1.6" fill="none"/>
<path d="M404.6,19.5 C406,16 412,15.3 418,15.3 C424,15.3 429,16.5 430.2,18.6 C433,19.4 435,19.6 436.3,19.6 C432,21.2 426,21.6 418,21.6 C410,21.6 405,21 404.6,19.5 Z" fill="#e6f0f7" stroke="#b8cede" stroke-width="0.5"/>
<ellipse cx="417.4" cy="18.2" rx="7" ry="1.3" fill="#f6fafc"/>
<text x="410.6" y="41.6" font-size="8.4" text-anchor="start" fill="#222" font-weight="normal" stroke="#222" stroke-width="0.22" >One-pot</text>
<path d="M408.8,47.3 L441,47.3" stroke="#7a5a58" stroke-width="0.8" marker-end="url(#ah)"/>
<filter id="blur1" x="-50%" y="-50%" width="200%" height="200%"><feGaussianBlur stdDeviation="1.6"/></filter>
<path d="M450.5,29.1 L487.7,17.6 L536.4,34.8 L486.8,58.7 Z" fill="#eef2f4" stroke="#b4bec4" stroke-width="0.5"/>
<path d="M450.5,29.4 L486.8,59 L536.4,35.1" fill="none" stroke="#7a8c9c" stroke-width="0.8"/>
<path d="M457,25.5 C459,23.5 462,22.5 466,21.5 L485,18.5 C488,18 490,18.2 493,19.2 L529,32 C532,33.5 532,35.5 529,37.5 L493,54 C489,55.8 486,55.5 483,53.5 L456,31.5 C453.5,29.5 454.5,27 457,25.5 Z" fill="#c2d4f0"/>
<path d="M460,23.5 C462,21.5 465,21 468,20.5 L485,17.8 C488,17.4 490,17.6 493,18.6 L527,31 C530,32.5 530,34 527,36 L495,50.5 C491,52.3 488,52 485,50 L460,30 C457.5,28 457.5,25.5 460,23.5 Z" fill="url(#gSheetB)"/>
<ellipse cx="482" cy="27" rx="20" ry="5" transform="rotate(14 482 27)" fill="#f4f8fd" opacity="0.7" filter="url(#blur1)"/>
<path d="M456,31.5 L483,53.5 C486,55.5 489,55.8 493,54 L486,56.5 L452,30 Z" fill="#eaf0f8" opacity="0.9"/>
<text x="464" y="82.3" font-size="8.4" text-anchor="start" fill="#222" font-weight="normal" stroke="#222" stroke-width="0.22" >R.T.</text>
<text x="485" y="85.4" font-size="8.4" text-anchor="start" fill="#222" font-weight="normal" stroke="#222" stroke-width="0.22" >Incubation</text>
<path d="M488,64 L480,95.5" stroke="#333" stroke-width="0.8" marker-end="url(#ah)"/>
<path d="M402.3,108.9 L440.8,88.8 L496.2,112.7 L456.1,148 Z" fill="#eef4f0" stroke="#a8c898" stroke-width="0.6"/>
<path d="M402.3,109.2 L456.1,148.3 L496.2,113" fill="none" stroke="#8aa8b0" stroke-width="0.7"/>
<path d="M410,103.5 C414,98 424,91 441,89.5 L487,109.5 C492,112 492,115 487,119 L463,138 C458,142 453,142 447,138 L410,112.5 C406,110 406,106 410,103.5 Z" fill="#bed4b2"/>
<path d="M412,101.5 C416,96 426,90 441,88.8 L485,108 C489,110.5 489,112.5 485,115.5 L464,132.5 C459,136.5 454,136.5 449,133 L413,109 C409,106.5 409,104 412,101.5 Z" fill="url(#gSheetG)"/>
<ellipse cx="448" cy="101" rx="22" ry="6" transform="rotate(22 448 101)" fill="#eef6ea" opacity="0.6" filter="url(#blur1)"/>
<path d="M455,117.8 L470.5,133 L454,148.6 L437.4,134 Z" fill="none" stroke="#4a4a4a" stroke-width="1.1" stroke-dasharray="3.2,2.3"/>
<path d="M436.8,133.8 L367.5,185 M471.5,133.8 L487.5,199" stroke="#4a4a4a" stroke-width="1.1" stroke-dasharray="3.2,2.3" fill="none"/>
<ellipse cx="426" cy="197.5" rx="60" ry="31.5" fill="none" stroke="#4a4a4a" stroke-width="1.1" stroke-dasharray="3.2,2.3"/>
<path d="M372.1,195.6 L395,188 L478.7,201.4 L420,220.7 Z" fill="#c4ccd6"/>
<path d="M372.1,195.6 L420,220.7 L420,224.5 L372.1,199 Z" fill="#dfe5ec"/>
<path d="M420,220.7 L478.7,201.4 L478.7,205.5 L420,224.5 Z" fill="#9eacba"/>
<path d="M374,196 L384,193 L388,198 L380,200 Z" fill="#e8eef4" opacity="0.9"/>
<path d="M383.6,196 L385.3,183 C386,179.5 388.5,178 391.5,177.8 L468,180 C471.5,180.8 473.5,183 473.7,185.5 L476.5,199 L417.3,216.4 Z" fill="#e0e8b6"/>
<path d="M391.5,179.2 L467,181.3 L472,187 L418,193 L388,186 Z" fill="#d6e2d4"/>
<path d="M388,186 L418,193 L417.3,216.4 L383.6,196 Z" fill="#cdd8ee"/>
<path d="M418,193 L472,187 L476.5,199 L417.3,216.4 Z" fill="#bcc8e4"/>
<path d="M385.5,197 L386.6,184 C387.2,181 389.5,179.5 392,179.5 L400,179.8" stroke="#dce6a6" stroke-width="3.4" fill="none" opacity="0.9" stroke-linecap="round"/>
<path d="M462,180.6 L467,181.3 C470,182 472,184 472.4,186 L474.5,198.5" stroke="#dce6a6" stroke-width="3.2" fill="none" opacity="0.9" stroke-linecap="round"/>
<circle cx="427.4" cy="183.5" r="0.9" fill="#3cc890"/>
<circle cx="388.5" cy="183.5" r="1.3" fill="#20b098"/>
<circle cx="416.4" cy="196.3" r="1.2" fill="#3cc890"/>
<circle cx="420.2" cy="190.4" r="1.0" fill="#3cc890"/>
<circle cx="423.9" cy="180.7" r="0.8" fill="#2bc0a0"/>
<circle cx="431.0" cy="194.2" r="1.1" fill="#3cc890"/>
<circle cx="420.6" cy="191.4" r="0.9" fill="#48c8b0"/>
<circle cx="405.4" cy="180.9" r="1.2" fill="#20b098"/>
<circle cx="453.7" cy="190.4" r="1.0" fill="#48c8b0"/>
<circle cx="456.8" cy="181.2" r="1.3" fill="#1a9a88"/>
<circle cx="392.7" cy="182.1" r="1.1" fill="#20b098"/>
<circle cx="408.1" cy="190.0" r="1.3" fill="#30b0c8"/>
<circle cx="388.3" cy="187.5" r="0.9" fill="#2bc0a0"/>
<circle cx="416.1" cy="195.1" r="0.9" fill="#20b098"/>
<circle cx="430.6" cy="186.8" r="1.1" fill="#2bc0a0"/>
<circle cx="423.7" cy="184.0" r="1.2" fill="#20b098"/>
<circle cx="447.6" cy="180.7" r="1.3" fill="#3cc890"/>
<circle cx="469.5" cy="180.5" r="1.1" fill="#30b0c8"/>
<circle cx="460.4" cy="187.0" r="1.2" fill="#30b0c8"/>
<circle cx="472.8" cy="180.8" r="1.2" fill="#2bc0a0"/>
<circle cx="401.7" cy="184.7" r="1.2" fill="#3cc890"/>
<circle cx="432.4" cy="186.5" r="1.2" fill="#48c8b0"/>
<circle cx="397.3" cy="191.3" r="1.0" fill="#2bc0a0"/>
<circle cx="422.2" cy="197.3" r="1.1" fill="#20b098"/>
<circle cx="420.2" cy="188.2" r="0.8" fill="#20b098"/>
<circle cx="406.1" cy="184.1" r="1.0" fill="#20b098"/>
<circle cx="414.1" cy="182.1" r="1.1" fill="#20b098"/>
<circle cx="390.2" cy="188.1" r="1.2" fill="#1a9a88"/>
<circle cx="417.4" cy="192.3" r="1.1" fill="#20b098"/>
<circle cx="424.1" cy="181.5" r="1.3" fill="#1a9a88"/>
<circle cx="431.3" cy="194.9" r="1.1" fill="#2bc0a0"/>
<circle cx="444.7" cy="180.9" r="1.3" fill="#48c8b0"/>
<circle cx="390.5" cy="191.1" r="1.2" fill="#48c8b0"/>
<circle cx="468.5" cy="189.1" r="1.1" fill="#20b098"/>
<circle cx="392.2" cy="183.1" r="1.2" fill="#48c8b0"/>
<circle cx="440.0" cy="193.7" r="1.0" fill="#2bc0a0"/>
<circle cx="428.9" cy="182.1" r="1.3" fill="#3cc890"/>
<circle cx="435.3" cy="188.8" r="0.8" fill="#1a9a88"/>
<circle cx="400.1" cy="185.5" r="1.2" fill="#30b0c8"/>
<circle cx="463.4" cy="181.0" r="1.2" fill="#30b0c8"/>
<circle cx="462.8" cy="183.8" r="0.9" fill="#20b098"/>
<circle cx="411.5" cy="180.1" r="1.2" fill="#20b098"/>
<circle cx="401.8" cy="190.1" r="1.3" fill="#2bc0a0"/>
<circle cx="402.9" cy="184.0" r="1.1" fill="#1a9a88"/>
<circle cx="395.1" cy="184.8" r="1.1" fill="#48c8b0"/>
<circle cx="433.5" cy="194.2" r="0.8" fill="#30b0c8"/>
<circle cx="463.6" cy="184.3" r="1.1" fill="#30b0c8"/>
<circle cx="442.5" cy="189.9" r="1.3" fill="#30b0c8"/>
<circle cx="434.1" cy="182.3" r="1.2" fill="#3cc890"/>
<circle cx="399.7" cy="179.5" r="1.1" fill="#20b098"/>
<circle cx="429.7" cy="188.1" r="0.8" fill="#30b0c8"/>
<circle cx="390.5" cy="180.5" r="1.1" fill="#48c8b0"/>
<circle cx="458.0" cy="187.1" r="1.1" fill="#2bc0a0"/>
<circle cx="391.1" cy="185.1" r="1.1" fill="#3cc890"/>
<circle cx="422.8" cy="187.6" r="0.8" fill="#20b098"/>
<circle cx="439.7" cy="181.0" r="0.8" fill="#48c8b0"/>
<circle cx="441.1" cy="185.7" r="1.1" fill="#3cc890"/>
<circle cx="453.9" cy="182.4" r="1.2" fill="#20b098"/>
<circle cx="427.4" cy="184.7" r="0.9" fill="#1a9a88"/>
<circle cx="471.8" cy="186.7" r="0.9" fill="#48c8b0"/>
<circle cx="445.1" cy="184.1" r="0.9" fill="#2bc0a0"/>
<circle cx="397.2" cy="179.2" r="0.8" fill="#3cc890"/>
<circle cx="471.0" cy="182.4" r="1.2" fill="#1a9a88"/>
<circle cx="441.3" cy="181.2" r="1.3" fill="#20b098"/>
<circle cx="408.1" cy="181.4" r="1.1" fill="#2bc0a0"/>
<circle cx="389.3" cy="180.5" r="1.1" fill="#20b098"/>
<circle cx="432.2" cy="184.0" r="1.3" fill="#1a9a88"/>
<circle cx="460.4" cy="185.2" r="0.9" fill="#20b098"/>
<circle cx="445.9" cy="180.6" r="0.8" fill="#2bc0a0"/>
<circle cx="470.9" cy="186.3" r="1.3" fill="#20b098"/>
<circle cx="462.5" cy="189.2" r="1.3" fill="#20b098"/>
<circle cx="390.5" cy="182.8" r="1.0" fill="#48c8b0"/>
<circle cx="429.8" cy="183.0" r="1.3" fill="#1a9a88"/>
<circle cx="424.6" cy="179.9" r="1.0" fill="#1a9a88"/>
<circle cx="439.9" cy="186.1" r="1.0" fill="#2bc0a0"/>
<circle cx="416.0" cy="179.6" r="0.9" fill="#48c8b0"/>
<circle cx="434.2" cy="181.0" r="1.2" fill="#3cc890"/>
<circle cx="464.2" cy="189.3" r="0.8" fill="#1a9a88"/>
<circle cx="469.8" cy="184.4" r="1.3" fill="#3cc890"/>
<circle cx="450.4" cy="181.3" r="1.1" fill="#48c8b0"/>
<circle cx="394.4" cy="186.8" r="1.0" fill="#2bc0a0"/>
<circle cx="461.7" cy="182.2" r="1.3" fill="#30b0c8"/>
<circle cx="430.7" cy="184.8" r="0.8" fill="#30b0c8"/>
<circle cx="405.4" cy="180.9" r="1.3" fill="#48c8b0"/>
<circle cx="391.6" cy="179.7" r="0.9" fill="#20b098"/>
<circle cx="431.3" cy="191.1" r="1.0" fill="#1a9a88"/>
<circle cx="421.1" cy="187.7" r="1.3" fill="#30b0c8"/>
<circle cx="446.7" cy="182.8" r="0.9" fill="#48c8b0"/>
<circle cx="465.8" cy="184.4" r="1.2" fill="#2bc0a0"/>
<circle cx="436.5" cy="179.8" r="1.2" fill="#20b098"/>
<circle cx="411.7" cy="186.0" r="1.2" fill="#1a9a88"/>
<circle cx="465.2" cy="186.6" r="1.0" fill="#2bc0a0"/>
<circle cx="431.9" cy="185.1" r="1.3" fill="#2bc0a0"/>
<circle cx="416.1" cy="191.4" r="1.0" fill="#30b0c8"/>
<circle cx="392.3" cy="180.9" r="1.0" fill="#30b0c8"/>
<circle cx="403.8" cy="190.2" r="1.2" fill="#20b098"/>
<circle cx="426.5" cy="183.0" r="1.2" fill="#2bc0a0"/>
<circle cx="464.7" cy="181.3" r="0.9" fill="#3cc890"/>
<circle cx="436.3" cy="179.8" r="1.1" fill="#20b098"/>
<circle cx="467.6" cy="185.9" r="1.1" fill="#20b098"/>
<circle cx="419.7" cy="192.8" r="1.3" fill="#1a9a88"/>
<circle cx="441.7" cy="193.4" r="1.1" fill="#2bc0a0"/>
<circle cx="470.0" cy="180.7" r="1.0" fill="#2bc0a0"/>
<circle cx="453.2" cy="191.5" r="0.9" fill="#30b0c8"/>
<circle cx="389.0" cy="185.9" r="1.0" fill="#2bc0a0"/>
<circle cx="470.9" cy="181.1" r="0.8" fill="#30b0c8"/>
<circle cx="437.4" cy="181.1" r="1.3" fill="#48c8b0"/>
<circle cx="448.1" cy="182.5" r="1.0" fill="#20b098"/>
<circle cx="422.5" cy="191.9" r="1.0" fill="#3cc890"/>
<circle cx="391.6" cy="179.9" r="0.9" fill="#30b0c8"/>
<circle cx="448.4" cy="186.6" r="1.2" fill="#30b0c8"/>
<circle cx="420.4" cy="191.6" r="1.3" fill="#30b0c8"/>
<circle cx="400.9" cy="182.7" r="1.3" fill="#1a9a88"/>
<circle cx="399.9" cy="183.2" r="1.2" fill="#3cc890"/>
<circle cx="442.1" cy="180.3" r="1.3" fill="#30b0c8"/>
<text x="488" y="161.3" font-size="8.5" text-anchor="start" fill="#222" font-weight="normal" stroke="#222" stroke-width="0.22" >PTHLF film</text>
<text x="485" y="171.3" font-size="8.5" text-anchor="start" fill="#222" font-weight="normal" stroke="#222" stroke-width="0.22" >with HA&amp;CsA</text>
<path d="M481,166 L466,178.5" stroke="#222" stroke-width="0.8" marker-end="url(#ah)"/>
<text x="7.6" y="139.6" font-size="11.2" text-anchor="start" fill="#111" font-weight="bold" stroke="#111" stroke-width="0.3" >C</text>
<path d="M49.4,129.2 L49.4,227 L170.3,227 L170.3,129.2 Z" fill="none" stroke="#666" stroke-width="0.8"/>
<path d="M47.5,227.0 L49.4,227.0" stroke="#555" stroke-width="0.8"/>
<text x="45.8" y="229.6" font-size="8.4" text-anchor="end" fill="#222" font-weight="normal" stroke="#222" stroke-width="0.22" >0</text>
<path d="M47.5,197.2 L49.4,197.2" stroke="#555" stroke-width="0.8"/>
<text x="45.8" y="199.75" font-size="8.4" text-anchor="end" fill="#222" font-weight="normal" stroke="#222" stroke-width="0.22" >100</text>
<path d="M47.5,167.3 L49.4,167.3" stroke="#555" stroke-width="0.8"/>
<text x="45.8" y="169.9" font-size="8.4" text-anchor="end" fill="#222" font-weight="normal" stroke="#222" stroke-width="0.22" >200</text>
<path d="M47.5,137.4 L49.4,137.4" stroke="#555" stroke-width="0.8"/>
<text x="45.8" y="140.04999999999998" font-size="8.4" text-anchor="end" fill="#222" font-weight="normal" stroke="#222" stroke-width="0.22" >300</text>
<path d="M48.4,212.1 L49.4,212.1" stroke="#555" stroke-width="0.6"/>
<path d="M48.4,182.2 L49.4,182.2" stroke="#555" stroke-width="0.6"/>
<path d="M48.4,152.4 L49.4,152.4" stroke="#555" stroke-width="0.6"/>
<rect x="56.9" y="226.0" width="7.5" height="1.0" fill="#8fb573"/>
<rect x="64.4" y="226.3" width="7.5" height="0.7" fill="#62ade2"/>
<path d="M60.7,225.5 L60.7,226.4 M59.5,225.5 L61.9,225.5 M59.5,226.4 L61.9,226.4" stroke="#222" stroke-width="0.7"/>
<path d="M68.2,225.8 L68.2,226.7 M67.0,225.8 L69.4,225.8 M67.0,226.7 L69.4,226.7" stroke="#222" stroke-width="0.7"/>
<path d="M64.4,227 L64.4,229.3" stroke="#555" stroke-width="0.8"/>
<text x="64.4" y="238" font-size="8.6" text-anchor="middle" fill="#222" font-weight="normal" stroke="#222" stroke-width="0.22" >HSA</text>
<rect x="87.1" y="204.9" width="7.5" height="22.1" fill="#8fb573"/>
<rect x="94.6" y="208.8" width="7.5" height="18.2" fill="#62ade2"/>
<path d="M90.8,204.3 L90.8,205.5 M89.6,204.3 L92.0,204.3 M89.6,205.5 L92.0,205.5" stroke="#222" stroke-width="0.7"/>
<path d="M98.3,207.0 L98.3,210.6 M97.1,207.0 L99.5,207.0 M97.1,210.6 L99.5,210.6" stroke="#222" stroke-width="0.7"/>
<path d="M94.6,227 L94.6,229.3" stroke="#555" stroke-width="0.8"/>
<text x="94.6" y="238" font-size="8.6" text-anchor="middle" fill="#222" font-weight="normal" stroke="#222" stroke-width="0.22" >IgG</text>
<rect x="117.5" y="190.3" width="7.5" height="36.7" fill="#8fb573"/>
<rect x="125.0" y="203.4" width="7.5" height="23.6" fill="#62ade2"/>
<path d="M121.2,188.2 L121.2,192.4 M120.0,188.2 L122.5,188.2 M120.0,192.4 L122.5,192.4" stroke="#222" stroke-width="0.7"/>
<path d="M128.8,202.7 L128.8,204.2 M127.5,202.7 L129.9,202.7 M127.5,204.2 L129.9,204.2" stroke="#222" stroke-width="0.7"/>
<path d="M125.0,227 L125.0,229.3" stroke="#555" stroke-width="0.8"/>
<text x="125" y="238" font-size="8.6" text-anchor="middle" fill="#222" font-weight="normal" stroke="#222" stroke-width="0.22" >HLF</text>
<rect x="147.5" y="156.9" width="7.5" height="70.1" fill="#8fb573"/>
<rect x="155.0" y="214.5" width="7.5" height="12.5" fill="#62ade2"/>
<path d="M151.2,155.1 L151.2,158.6 M150.1,155.1 L152.4,155.1 M150.1,158.6 L152.4,158.6" stroke="#222" stroke-width="0.7"/>
<path d="M158.8,213.4 L158.8,215.5 M157.6,213.4 L159.9,213.4 M157.6,215.5 L159.9,215.5" stroke="#222" stroke-width="0.7"/>
<path d="M155.0,227 L155.0,229.3" stroke="#555" stroke-width="0.8"/>
<text x="155" y="238" font-size="8.6" text-anchor="middle" fill="#222" font-weight="normal" stroke="#222" stroke-width="0.22" >Lys</text>
<rect x="54.5" y="137.3" width="9.5" height="4.4" fill="#8fb573"/>
<rect x="54.5" y="144.6" width="9.5" height="4.8" fill="#62ade2"/>
<text x="66" y="141.6" font-size="6.4" text-anchor="start" fill="#222" font-weight="normal" stroke="#222" stroke-width="0.22" >CL</text>
<text x="66" y="148.8" font-size="6.4" text-anchor="start" fill="#222" font-weight="normal" stroke="#222" stroke-width="0.22" >CL with PTHLF nanofilm</text>
<text x="0" y="0" font-size="10.8" text-anchor="middle" fill="#222" font-weight="normal" stroke="#222" stroke-width="0.22" transform="translate(27.9,178.7) rotate(-90)">Protein adsorption (µg)</text>
<text x="198" y="140.2" font-size="11.2" text-anchor="start" fill="#111" font-weight="bold" stroke="#111" stroke-width="0.3" >D</text>
<rect x="219.2" y="131.1" width="102" height="101.4" fill="#10a612"/>
<rect x="276.8" y="194.7" width="1.7" height="2.3" fill="#0a980a" opacity="0.6"/>
<rect x="317.9" y="222.0" width="2.4" height="1.8" fill="#0a980a" opacity="0.6"/>
<rect x="264.2" y="225.9" width="1.5" height="1.5" fill="#1cb81c" opacity="0.6"/>
<rect x="269.4" y="136.8" width="2.2" height="1.4" fill="#28c028" opacity="0.6"/>
<rect x="251.6" y="208.0" width="1.2" height="1.1" fill="#14ae14" opacity="0.6"/>
<rect x="318.0" y="159.9" width="2.5" height="1.1" fill="#14ae14" opacity="0.6"/>
<rect x="256.3" y="196.9" width="1.8" height="1.5" fill="#14ae14" opacity="0.6"/>
<rect x="255.1" y="197.4" width="1.6" height="2.0" fill="#28c028" opacity="0.6"/>
<rect x="307.9" y="168.0" width="1.1" height="1.1" fill="#1cb81c" opacity="0.6"/>
<rect x="300.7" y="131.8" width="1.4" height="1.3" fill="#28c028" opacity="0.6"/>
<rect x="238.9" y="196.9" width="1.9" height="2.2" fill="#28c028" opacity="0.6"/>
<rect x="220.5" y="169.5" width="1.2" height="2.3" fill="#0a980a" opacity="0.6"/>
<rect x="264.1" y="163.0" width="2.4" height="2.1" fill="#14ae14" opacity="0.6"/>
<rect x="268.1" y="200.6" width="1.7" height="1.6" fill="#0a980a" opacity="0.6"/>
<rect x="270.4" y="157.6" width="1.6" height="2.1" fill="#28c028" opacity="0.6"/>
<rect x="251.4" y="227.2" width="1.2" height="1.3" fill="#14ae14" opacity="0.6"/>
<rect x="291.0" y="193.7" width="2.4" height="1.3" fill="#0a980a" opacity="0.6"/>
<rect x="292.3" y="166.9" width="1.7" height="2.2" fill="#28c028" opacity="0.6"/>
<rect x="312.5" y="218.4" width="2.3" height="1.9" fill="#1cb81c" opacity="0.6"/>
<rect x="292.0" y="154.3" width="2.2" height="2.3" fill="#1cb81c" opacity="0.6"/>
<rect x="227.4" y="143.2" width="1.3" height="1.9" fill="#14ae14" opacity="0.6"/>
<rect x="226.0" y="199.5" width="1.9" height="2.5" fill="#1cb81c" opacity="0.6"/>
<rect x="287.8" y="132.2" width="1.6" height="2.4" fill="#14ae14" opacity="0.6"/>
<rect x="301.3" y="145.3" width="2.2" height="1.9" fill="#1cb81c" opacity="0.6"/>
<rect x="287.4" y="165.0" width="2.2" height="2.1" fill="#1cb81c" opacity="0.6"/>
<rect x="306.6" y="228.3" width="2.2" height="1.7" fill="#1cb81c" opacity="0.6"/>
<rect x="248.7" y="164.4" width="2.1" height="1.1" fill="#14ae14" opacity="0.6"/>
<rect x="258.4" y="206.7" width="1.3" height="1.1" fill="#0a980a" opacity="0.6"/>
<rect x="239.9" y="144.3" width="1.3" height="1.8" fill="#1cb81c" opacity="0.6"/>
<rect x="266.1" y="163.9" width="1.0" height="1.0" fill="#14ae14" opacity="0.6"/>
<rect x="234.5" y="150.1" width="1.4" height="1.9" fill="#0a980a" opacity="0.6"/>
<rect x="315.7" y="158.4" width="1.4" height="1.6" fill="#1cb81c" opacity="0.6"/>
<rect x="222.2" y="139.8" width="2.0" height="2.4" fill="#14ae14" opacity="0.6"/>
<rect x="252.8" y="212.5" width="2.3" height="2.0" fill="#1cb81c" opacity="0.6"/>
<rect x="232.5" y="147.6" width="1.9" height="2.1" fill="#28c028" opacity="0.6"/>
<rect x="297.8" y="218.8" width="2.3" height="2.1" fill="#28c028" opacity="0.6"/>
<rect x="247.8" y="170.0" width="1.9" height="1.4" fill="#0a980a" opacity="0.6"/>
<rect x="286.7" y="226.6" width="1.7" height="1.6" fill="#28c028" opacity="0.6"/>
<rect x="229.4" y="208.4" width="1.4" height="2.2" fill="#14ae14" opacity="0.6"/>
<rect x="229.9" y="150.2" width="1.7" height="1.3" fill="#0a980a" opacity="0.6"/>
<rect x="262.2" y="207.3" width="2.2" height="2.4" fill="#1cb81c" opacity="0.6"/>
<rect x="261.1" y="146.2" width="2.2" height="1.6" fill="#1cb81c" opacity="0.6"/>
<rect x="263.9" y="131.9" width="2.2" height="2.5" fill="#1cb81c" opacity="0.6"/>
<rect x="274.1" y="159.8" width="2.4" height="2.0" fill="#28c028" opacity="0.6"/>
<rect x="261.1" y="132.9" width="2.3" height="1.5" fill="#14ae14" opacity="0.6"/>
<rect x="302.6" y="224.4" width="2.2" height="1.3" fill="#0a980a" opacity="0.6"/>
<rect x="264.8" y="213.8" width="1.4" height="1.7" fill="#14ae14" opacity="0.6"/>
<rect x="269.9" y="168.1" width="1.3" height="1.6" fill="#1cb81c" opacity="0.6"/>
<rect x="243.8" y="204.2" width="2.2" height="1.4" fill="#0a980a" opacity="0.6"/>
<rect x="222.4" y="207.4" width="2.2" height="2.4" fill="#14ae14" opacity="0.6"/>
<rect x="222.6" y="203.2" width="2.2" height="1.8" fill="#1cb81c" opacity="0.6"/>
<rect x="251.7" y="142.3" width="2.2" height="1.5" fill="#0a980a" opacity="0.6"/>
<rect x="316.1" y="191.1" width="2.1" height="2.0" fill="#28c028" opacity="0.6"/>
<rect x="245.6" y="230.3" width="1.5" height="1.9" fill="#1cb81c" opacity="0.6"/>
<rect x="292.0" y="170.3" width="2.1" height="1.2" fill="#14ae14" opacity="0.6"/>
<rect x="237.3" y="212.5" width="1.5" height="2.1" fill="#0a980a" opacity="0.6"/>
<rect x="248.3" y="198.2" width="1.5" height="1.9" fill="#1cb81c" opacity="0.6"/>
<rect x="278.2" y="163.5" width="2.4" height="2.0" fill="#14ae14" opacity="0.6"/>
<rect x="260.9" y="148.1" width="1.9" height="1.6" fill="#0a980a" opacity="0.6"/>
<rect x="308.7" y="199.2" width="2.1" height="1.0" fill="#28c028" opacity="0.6"/>
<rect x="283.1" y="150.7" width="1.8" height="1.4" fill="#0a980a" opacity="0.6"/>
<rect x="292.2" y="148.7" width="1.3" height="2.0" fill="#0a980a" opacity="0.6"/>
<rect x="294.2" y="222.8" width="1.8" height="1.6" fill="#14ae14" opacity="0.6"/>
<rect x="282.8" y="196.3" width="2.1" height="2.1" fill="#14ae14" opacity="0.6"/>
<rect x="313.7" y="193.6" width="1.6" height="2.2" fill="#28c028" opacity="0.6"/>
<rect x="256.2" y="214.4" width="2.3" height="2.4" fill="#1cb81c" opacity="0.6"/>
<rect x="248.5" y="195.4" width="2.1" height="1.8" fill="#0a980a" opacity="0.6"/>
<rect x="284.7" y="146.2" width="1.3" height="1.5" fill="#14ae14" opacity="0.6"/>
<rect x="312.3" y="210.4" width="1.1" height="1.3" fill="#14ae14" opacity="0.6"/>
<rect x="274.5" y="207.3" width="1.1" height="1.9" fill="#28c028" opacity="0.6"/>
<rect x="245.7" y="165.3" width="1.1" height="2.2" fill="#1cb81c" opacity="0.6"/>
<rect x="234.9" y="158.9" width="1.2" height="1.2" fill="#14ae14" opacity="0.6"/>
<rect x="256.4" y="145.2" width="2.2" height="1.8" fill="#1cb81c" opacity="0.6"/>
<rect x="281.3" y="141.2" width="1.8" height="1.5" fill="#28c028" opacity="0.6"/>
<rect x="304.8" y="169.3" width="1.3" height="1.2" fill="#0a980a" opacity="0.6"/>
<rect x="253.1" y="148.4" width="2.1" height="1.5" fill="#1cb81c" opacity="0.6"/>
<rect x="245.6" y="203.6" width="1.9" height="1.6" fill="#14ae14" opacity="0.6"/>
<rect x="247.1" y="210.0" width="1.3" height="2.5" fill="#1cb81c" opacity="0.6"/>
<rect x="279.3" y="216.8" width="1.6" height="2.1" fill="#28c028" opacity="0.6"/>
<rect x="301.7" y="223.9" width="2.3" height="1.5" fill="#14ae14" opacity="0.6"/>
<rect x="257.5" y="193.4" width="1.5" height="1.5" fill="#1cb81c" opacity="0.6"/>
<rect x="296.8" y="222.0" width="1.9" height="1.6" fill="#0a980a" opacity="0.6"/>
<rect x="271.3" y="153.6" width="2.1" height="1.8" fill="#1cb81c" opacity="0.6"/>
<rect x="270.6" y="159.3" width="2.3" height="1.9" fill="#0a980a" opacity="0.6"/>
<rect x="242.2" y="147.8" width="2.2" height="2.0" fill="#1cb81c" opacity="0.6"/>
<rect x="315.2" y="212.4" width="1.9" height="1.9" fill="#28c028" opacity="0.6"/>
<rect x="309.0" y="213.4" width="1.0" height="1.0" fill="#0a980a" opacity="0.6"/>
<rect x="264.4" y="222.5" width="2.3" height="1.1" fill="#14ae14" opacity="0.6"/>
<rect x="240.2" y="208.9" width="1.9" height="1.0" fill="#28c028" opacity="0.6"/>
<rect x="281.7" y="207.1" width="2.1" height="2.3" fill="#0a980a" opacity="0.6"/>
<rect x="317.9" y="144.7" width="2.3" height="2.0" fill="#28c028" opacity="0.6"/>
<rect x="221.6" y="202.0" width="2.2" height="1.5" fill="#14ae14" opacity="0.6"/>
<rect x="225.9" y="139.5" width="2.2" height="1.9" fill="#14ae14" opacity="0.6"/>
<rect x="294.3" y="139.5" width="2.1" height="1.1" fill="#28c028" opacity="0.6"/>
<rect x="252.7" y="206.2" width="1.7" height="1.7" fill="#1cb81c" opacity="0.6"/>
<rect x="318.9" y="224.8" width="1.3" height="2.0" fill="#1cb81c" opacity="0.6"/>
<rect x="301.1" y="204.7" width="2.4" height="2.4" fill="#28c028" opacity="0.6"/>
<rect x="236.5" y="137.9" width="1.2" height="1.7" fill="#28c028" opacity="0.6"/>
<rect x="276.3" y="227.7" width="1.8" height="2.3" fill="#0a980a" opacity="0.6"/>
<rect x="316.6" y="205.2" width="1.2" height="2.0" fill="#28c028" opacity="0.6"/>
<rect x="311.0" y="151.2" width="1.5" height="2.0" fill="#14ae14" opacity="0.6"/>
<rect x="222.0" y="221.2" width="1.9" height="1.0" fill="#0a980a" opacity="0.6"/>
<rect x="287.3" y="141.4" width="2.3" height="1.6" fill="#14ae14" opacity="0.6"/>
<rect x="311.6" y="159.3" width="1.3" height="1.1" fill="#0a980a" opacity="0.6"/>
<rect x="257.0" y="221.4" width="1.1" height="2.0" fill="#0a980a" opacity="0.6"/>
<rect x="253.4" y="142.0" width="1.5" height="1.2" fill="#1cb81c" opacity="0.6"/>
<rect x="297.7" y="171.1" width="1.0" height="1.6" fill="#14ae14" opacity="0.6"/>
<rect x="286.2" y="137.0" width="2.4" height="1.2" fill="#0a980a" opacity="0.6"/>
<rect x="293.7" y="208.9" width="1.8" height="2.5" fill="#28c028" opacity="0.6"/>
<rect x="235.0" y="206.7" width="2.1" height="1.1" fill="#28c028" opacity="0.6"/>
<rect x="314.1" y="227.1" width="2.3" height="1.4" fill="#0a980a" opacity="0.6"/>
<rect x="284.6" y="155.5" width="2.2" height="1.6" fill="#14ae14" opacity="0.6"/>
<rect x="289.7" y="226.9" width="2.4" height="1.3" fill="#0a980a" opacity="0.6"/>
<rect x="242.2" y="203.4" width="1.4" height="1.5" fill="#0a980a" opacity="0.6"/>
<rect x="258.7" y="172.9" width="1.1" height="1.4" fill="#14ae14" opacity="0.6"/>
<rect x="295.0" y="141.2" width="2.4" height="1.4" fill="#1cb81c" opacity="0.6"/>
<rect x="237.8" y="209.0" width="1.2" height="2.5" fill="#28c028" opacity="0.6"/>
<rect x="239.7" y="194.8" width="2.0" height="2.0" fill="#14ae14" opacity="0.6"/>
<rect x="227.2" y="211.5" width="2.1" height="1.5" fill="#14ae14" opacity="0.6"/>
<rect x="272.3" y="202.9" width="2.2" height="1.3" fill="#1cb81c" opacity="0.6"/>
<rect x="277.3" y="137.1" width="2.4" height="2.0" fill="#0a980a" opacity="0.6"/>
<rect x="304.5" y="141.5" width="1.6" height="1.1" fill="#28c028" opacity="0.6"/>
<rect x="305.8" y="154.9" width="1.2" height="1.6" fill="#1cb81c" opacity="0.6"/>
<rect x="253.6" y="143.9" width="1.4" height="2.4" fill="#14ae14" opacity="0.6"/>
<rect x="235.6" y="228.3" width="1.3" height="1.3" fill="#0a980a" opacity="0.6"/>
<rect x="310.5" y="155.3" width="2.3" height="2.4" fill="#1cb81c" opacity="0.6"/>
<rect x="268.3" y="133.4" width="2.5" height="1.3" fill="#14ae14" opacity="0.6"/>
<rect x="311.0" y="212.1" width="1.0" height="1.2" fill="#14ae14" opacity="0.6"/>
<rect x="319.8" y="160.3" width="1.1" height="2.1" fill="#1cb81c" opacity="0.6"/>
<rect x="312.8" y="203.3" width="2.4" height="2.1" fill="#28c028" opacity="0.6"/>
<rect x="294.1" y="161.7" width="1.1" height="1.5" fill="#0a980a" opacity="0.6"/>
<rect x="292.3" y="206.0" width="2.2" height="1.2" fill="#14ae14" opacity="0.6"/>
<rect x="319.4" y="221.2" width="2.3" height="1.0" fill="#28c028" opacity="0.6"/>
<rect x="236.8" y="221.6" width="1.8" height="1.8" fill="#0a980a" opacity="0.6"/>
<rect x="303.2" y="137.2" width="2.0" height="2.0" fill="#0a980a" opacity="0.6"/>
<rect x="289.9" y="192.1" width="2.2" height="1.2" fill="#28c028" opacity="0.6"/>
<rect x="244.1" y="194.5" width="1.9" height="1.5" fill="#28c028" opacity="0.6"/>
<rect x="315.1" y="192.8" width="2.4" height="1.8" fill="#1cb81c" opacity="0.6"/>
<rect x="254.1" y="209.8" width="2.2" height="1.9" fill="#28c028" opacity="0.6"/>
<rect x="308.1" y="141.7" width="1.0" height="2.3" fill="#28c028" opacity="0.6"/>
<rect x="236.4" y="173.1" width="2.3" height="1.3" fill="#28c028" opacity="0.6"/>
<rect x="290.5" y="230.6" width="1.2" height="1.7" fill="#1cb81c" opacity="0.6"/>
<rect x="235.9" y="133.2" width="1.9" height="1.0" fill="#0a980a" opacity="0.6"/>
<rect x="273.6" y="168.8" width="1.2" height="2.0" fill="#0a980a" opacity="0.6"/>
<rect x="245.2" y="134.0" width="1.8" height="1.0" fill="#1cb81c" opacity="0.6"/>
<rect x="299.5" y="200.9" width="2.1" height="1.3" fill="#14ae14" opacity="0.6"/>
<rect x="253.6" y="172.6" width="2.0" height="1.4" fill="#14ae14" opacity="0.6"/>
<rect x="306.5" y="150.7" width="1.3" height="1.9" fill="#0a980a" opacity="0.6"/>
<rect x="277.6" y="228.1" width="1.0" height="1.5" fill="#0a980a" opacity="0.6"/>
<rect x="254.0" y="159.5" width="1.3" height="1.1" fill="#14ae14" opacity="0.6"/>
<rect x="267.4" y="220.1" width="1.5" height="1.5" fill="#28c028" opacity="0.6"/>
<rect x="277.5" y="151.4" width="1.1" height="2.5" fill="#1cb81c" opacity="0.6"/>
<rect x="253.9" y="136.8" width="1.6" height="1.9" fill="#0a980a" opacity="0.6"/>
<rect x="270.4" y="166.1" width="2.5" height="1.8" fill="#28c028" opacity="0.6"/>
<rect x="231.7" y="139.0" width="1.2" height="2.1" fill="#1cb81c" opacity="0.6"/>
<rect x="255.7" y="157.5" width="2.1" height="1.2" fill="#0a980a" opacity="0.6"/>
<rect x="233.8" y="166.7" width="2.0" height="1.1" fill="#0a980a" opacity="0.6"/>
<rect x="246.7" y="160.8" width="1.9" height="1.9" fill="#0a980a" opacity="0.6"/>
<rect x="231.9" y="159.9" width="2.3" height="1.5" fill="#14ae14" opacity="0.6"/>
<rect x="315.1" y="201.0" width="2.2" height="2.0" fill="#14ae14" opacity="0.6"/>
<rect x="263.3" y="214.6" width="1.5" height="2.5" fill="#14ae14" opacity="0.6"/>
<rect x="246.1" y="223.2" width="2.2" height="1.2" fill="#1cb81c" opacity="0.6"/>
<rect x="245.4" y="151.1" width="1.7" height="2.4" fill="#1cb81c" opacity="0.6"/>
<rect x="257.1" y="139.3" width="2.0" height="1.3" fill="#1cb81c" opacity="0.6"/>
<rect x="314.5" y="193.8" width="1.7" height="2.3" fill="#14ae14" opacity="0.6"/>
<rect x="298.1" y="149.5" width="1.2" height="2.3" fill="#28c028" opacity="0.6"/>
<rect x="287.6" y="168.2" width="2.2" height="1.2" fill="#0a980a" opacity="0.6"/>
<rect x="257.3" y="137.2" width="1.9" height="2.2" fill="#0a980a" opacity="0.6"/>
<rect x="247.1" y="198.2" width="2.4" height="2.0" fill="#14ae14" opacity="0.6"/>
<rect x="231.8" y="139.3" width="1.3" height="1.3" fill="#14ae14" opacity="0.6"/>
<rect x="289.0" y="214.5" width="2.4" height="1.6" fill="#14ae14" opacity="0.6"/>
<rect x="285.5" y="160.7" width="2.3" height="1.2" fill="#1cb81c" opacity="0.6"/>
<rect x="245.6" y="207.0" width="1.0" height="2.4" fill="#1cb81c" opacity="0.6"/>
<rect x="222.0" y="224.3" width="1.6" height="1.4" fill="#14ae14" opacity="0.6"/>
<rect x="269.1" y="226.8" width="2.4" height="2.1" fill="#1cb81c" opacity="0.6"/>
<rect x="221.1" y="197.2" width="1.7" height="2.4" fill="#14ae14" opacity="0.6"/>
<rect x="223.5" y="206.3" width="1.5" height="2.1" fill="#1cb81c" opacity="0.6"/>
<rect x="231.9" y="194.6" width="2.1" height="1.7" fill="#0a980a" opacity="0.6"/>
<rect x="235.7" y="163.6" width="2.0" height="1.1" fill="#0a980a" opacity="0.6"/>
<rect x="312.9" y="144.5" width="1.0" height="1.0" fill="#28c028" opacity="0.6"/>
<rect x="316.0" y="164.4" width="1.0" height="1.1" fill="#28c028" opacity="0.6"/>
<rect x="264.9" y="163.7" width="1.2" height="1.8" fill="#28c028" opacity="0.6"/>
<rect x="230.5" y="227.7" width="2.1" height="2.0" fill="#14ae14" opacity="0.6"/>
<rect x="297.3" y="196.0" width="2.2" height="1.2" fill="#14ae14" opacity="0.6"/>
<rect x="245.5" y="200.1" width="1.4" height="2.5" fill="#1cb81c" opacity="0.6"/>
<rect x="279.5" y="173.5" width="1.8" height="1.4" fill="#14ae14" opacity="0.6"/>
<rect x="308.6" y="207.9" width="2.2" height="1.5" fill="#28c028" opacity="0.6"/>
<rect x="304.0" y="228.6" width="2.2" height="1.4" fill="#28c028" opacity="0.6"/>
<rect x="265.7" y="169.9" width="1.7" height="1.3" fill="#28c028" opacity="0.6"/>
<rect x="270.8" y="227.0" width="1.4" height="1.6" fill="#1cb81c" opacity="0.6"/>
<rect x="314.7" y="195.1" width="1.2" height="1.9" fill="#28c028" opacity="0.6"/>
<rect x="280.5" y="198.4" width="2.1" height="1.9" fill="#14ae14" opacity="0.6"/>
<rect x="315.5" y="162.2" width="1.1" height="1.9" fill="#14ae14" opacity="0.6"/>
<rect x="222.5" y="224.0" width="2.0" height="1.8" fill="#0a980a" opacity="0.6"/>
<rect x="272.4" y="169.2" width="2.3" height="2.5" fill="#14ae14" opacity="0.6"/>
<rect x="276.6" y="227.4" width="2.5" height="2.3" fill="#0a980a" opacity="0.6"/>
<rect x="317.3" y="163.9" width="1.5" height="1.9" fill="#0a980a" opacity="0.6"/>
<rect x="282.9" y="164.6" width="2.2" height="2.1" fill="#14ae14" opacity="0.6"/>
<rect x="307.1" y="145.0" width="1.9" height="1.9" fill="#28c028" opacity="0.6"/>
<rect x="301.0" y="160.3" width="1.3" height="2.0" fill="#28c028" opacity="0.6"/>
<rect x="285.0" y="156.6" width="1.5" height="1.7" fill="#0a980a" opacity="0.6"/>
<rect x="239.4" y="193.4" width="1.5" height="1.4" fill="#0a980a" opacity="0.6"/>
<rect x="317.4" y="156.5" width="2.4" height="1.2" fill="#28c028" opacity="0.6"/>
<rect x="269.5" y="173.7" width="1.6" height="1.4" fill="#0a980a" opacity="0.6"/>
<rect x="303.8" y="220.2" width="1.3" height="1.9" fill="#28c028" opacity="0.6"/>
<rect x="235.8" y="202.5" width="1.7" height="1.5" fill="#1cb81c" opacity="0.6"/>
<rect x="297.0" y="200.7" width="1.7" height="1.3" fill="#1cb81c" opacity="0.6"/>
<path d="M219.2,176 L235,175.5 L260,176 L290,175 L321.2,175.5 L321.2,189.5 L290,189 L260,189.8 L235,189.2 L219.2,189.5 Z" fill="#050805"/>
<path d="M258,131 C250,150 246,170 240,190 C236,205 230,222 226,232" stroke="#3ccc3c" stroke-width="0.6" fill="none" opacity="0.6"/>
<text x="280" y="224.5" font-size="10.2" text-anchor="start" fill="#ffffff" font-weight="bold" >100 µm</text>
<rect x="300.2" y="227.8" width="15.4" height="1.9" fill="#ffffff"/>
<text x="7.8" y="265.3" font-size="11.2" text-anchor="start" fill="#111" font-weight="bold" stroke="#111" stroke-width="0.3" >E</text>
<path d="M48,360.8 L170,360.8" stroke="#888" stroke-width="0.8" fill="none"/>
<path d="M48,263.4 L170,263.4" stroke="#999" stroke-width="0.8" fill="none"/>
<path d="M48,263.4 L48,360.8" stroke="#8cc4ec" stroke-width="0.9" fill="none"/>
<path d="M170,263.4 L170,360.8" stroke="#acd890" stroke-width="0.9" fill="none"/>
<text x="46.5" y="363.6" font-size="8.4" text-anchor="end" fill="#222" font-weight="normal" stroke="#222" stroke-width="0.22" >0</text>
<text x="46.5" y="339.25" font-size="8.4" text-anchor="end" fill="#222" font-weight="normal" stroke="#222" stroke-width="0.22" >5</text>
<text x="46.5" y="314.90000000000003" font-size="8.4" text-anchor="end" fill="#222" font-weight="normal" stroke="#222" stroke-width="0.22" >10</text>
<text x="46.5" y="290.55" font-size="8.4" text-anchor="end" fill="#222" font-weight="normal" stroke="#222" stroke-width="0.22" >15</text>
<text x="46.5" y="266.2" font-size="8.4" text-anchor="end" fill="#222" font-weight="normal" stroke="#222" stroke-width="0.22" >20</text>
<path d="M168.5,360.8 L170,360.8" stroke="#8ccc64" stroke-width="0.8"/>
<text x="173.5" y="363.6" font-size="8.4" text-anchor="start" fill="#222" font-weight="normal" stroke="#222" stroke-width="0.22" >0</text>
<path d="M168.5,341.3 L170,341.3" stroke="#8ccc64" stroke-width="0.8"/>
<text x="173.5" y="344.12" font-size="8.4" text-anchor="start" fill="#222" font-weight="normal" stroke="#222" stroke-width="0.22" >5</text>
<path d="M168.5,321.8 L170,321.8" stroke="#8ccc64" stroke-width="0.8"/>
<text x="173.5" y="324.64000000000004" font-size="8.4" text-anchor="start" fill="#222" font-weight="normal" stroke="#222" stroke-width="0.22" >10</text>
<path d="M168.5,302.4 L170,302.4" stroke="#8ccc64" stroke-width="0.8"/>
<text x="173.5" y="305.16" font-size="8.4" text-anchor="start" fill="#222" font-weight="normal" stroke="#222" stroke-width="0.22" >15</text>
<path d="M168.5,282.9 L170,282.9" stroke="#8ccc64" stroke-width="0.8"/>
<text x="173.5" y="285.68" font-size="8.4" text-anchor="start" fill="#222" font-weight="normal" stroke="#222" stroke-width="0.22" >20</text>
<path d="M168.5,263.4 L170,263.4" stroke="#8ccc64" stroke-width="0.8"/>
<text x="173.5" y="266.20000000000005" font-size="8.4" text-anchor="start" fill="#222" font-weight="normal" stroke="#222" stroke-width="0.22" >25</text>
<path d="M48.7,360.8 L48.7,362.3" stroke="#666" stroke-width="0.7"/>
<text x="48.7" y="371" font-size="8.4" text-anchor="middle" fill="#222" font-weight="normal" stroke="#222" stroke-width="0.22" >0</text>
<path d="M76.7,360.8 L76.7,362.3" stroke="#666" stroke-width="0.7"/>
<text x="76.729" y="371" font-size="8.4" text-anchor="middle" fill="#222" font-weight="normal" stroke="#222" stroke-width="0.22" >150</text>
<path d="M104.8,360.8 L104.8,362.3" stroke="#666" stroke-width="0.7"/>
<text x="104.75800000000001" y="371" font-size="8.4" text-anchor="middle" fill="#222" font-weight="normal" stroke="#222" stroke-width="0.22" >300</text>
<path d="M132.8,360.8 L132.8,362.3" stroke="#666" stroke-width="0.7"/>
<text x="132.787" y="371" font-size="8.4" text-anchor="middle" fill="#222" font-weight="normal" stroke="#222" stroke-width="0.22" >450</text>
<path d="M160.8,360.8 L160.8,362.3" stroke="#666" stroke-width="0.7"/>
<text x="160.816" y="371" font-size="8.4" text-anchor="middle" fill="#222" font-weight="normal" stroke="#222" stroke-width="0.22" >600</text>
<path d="M62.70,342.20 C65.13,340.33 72.58,333.62 77.30,331.00 C82.02,328.38 86.38,328.03 91.00,326.50 C95.62,324.97 100.38,324.47 105.00,321.80 C109.62,319.13 114.05,315.55 118.70,310.50 C123.35,305.45 128.23,294.83 132.90,291.50 C137.57,288.17 142.05,284.85 146.70,290.50 C151.35,296.15 158.45,319.58 160.80,325.40" stroke="#2a7ab8" stroke-width="1.1" fill="none"/>
<path d="M63.10,295.90 C65.47,297.72 72.65,302.87 77.30,306.80 C81.95,310.73 86.38,316.05 91.00,319.50 C95.62,322.95 100.38,326.25 105.00,327.50 C109.62,328.75 114.05,327.92 118.70,327.00 C123.35,326.08 128.23,322.25 132.90,322.00 C137.57,321.75 142.05,321.78 146.70,325.50 C151.35,329.22 158.45,341.17 160.80,344.30" stroke="#7cc24a" stroke-width="1.1" fill="none"/>
<path d="M62.7,340.9 L62.7,343.5 M61.4,340.9 L64.0,340.9 M61.4,343.5 L64.0,343.5" stroke="#2a7ab8" stroke-width="0.8"/>
<circle cx="62.7" cy="342.2" r="1.5" fill="#fff" stroke="#2a7ab8" stroke-width="0.8"/>
<path d="M77.3,325.7 L77.3,333.7 M76.0,325.7 L78.6,325.7 M76.0,333.7 L78.6,333.7" stroke="#2a7ab8" stroke-width="0.8"/>
<circle cx="77.3" cy="329.7" r="1.5" fill="#fff" stroke="#2a7ab8" stroke-width="0.8"/>
<path d="M91.0,324.8 L91.0,331.6 M89.7,324.8 L92.3,324.8 M89.7,331.6 L92.3,331.6" stroke="#2a7ab8" stroke-width="0.8"/>
<circle cx="91.0" cy="328.2" r="1.5" fill="#fff" stroke="#2a7ab8" stroke-width="0.8"/>
<path d="M105.0,320.3 L105.0,324.7 M103.7,320.3 L106.3,320.3 M103.7,324.7 L106.3,324.7" stroke="#2a7ab8" stroke-width="0.8"/>
<circle cx="105.0" cy="322.5" r="1.5" fill="#fff" stroke="#2a7ab8" stroke-width="0.8"/>
<path d="M118.7,305.6 L118.7,314.6 M117.4,305.6 L120.0,305.6 M117.4,314.6 L120.0,314.6" stroke="#2a7ab8" stroke-width="0.8"/>
<circle cx="118.7" cy="310.1" r="1.5" fill="#fff" stroke="#2a7ab8" stroke-width="0.8"/>
<path d="M132.9,282.8 L132.9,293.8 M131.6,282.8 L134.2,282.8 M131.6,293.8 L134.2,293.8" stroke="#2a7ab8" stroke-width="0.8"/>
<circle cx="132.9" cy="288.3" r="1.5" fill="#fff" stroke="#2a7ab8" stroke-width="0.8"/>
<path d="M146.7,279.4 L146.7,294.0 M145.4,279.4 L148.0,279.4 M145.4,294.0 L148.0,294.0" stroke="#2a7ab8" stroke-width="0.8"/>
<circle cx="146.7" cy="286.7" r="1.5" fill="#fff" stroke="#2a7ab8" stroke-width="0.8"/>
<path d="M160.8,321.1 L160.8,329.7 M159.5,321.1 L162.1,321.1 M159.5,329.7 L162.1,329.7" stroke="#2a7ab8" stroke-width="0.8"/>
<circle cx="160.8" cy="325.4" r="1.5" fill="#fff" stroke="#2a7ab8" stroke-width="0.8"/>
<path d="M63.1,291.1 L63.1,300.7 M61.8,291.1 L64.4,291.1 M61.8,300.7 L64.4,300.7" stroke="#7cc24a" stroke-width="0.8"/>
<circle cx="63.1" cy="295.9" r="1.5" fill="#fff" stroke="#7cc24a" stroke-width="0.8"/>
<path d="M77.3,300.3 L77.3,313.3 M76.0,300.3 L78.6,300.3 M76.0,313.3 L78.6,313.3" stroke="#7cc24a" stroke-width="0.8"/>
<circle cx="77.3" cy="306.8" r="1.5" fill="#fff" stroke="#7cc24a" stroke-width="0.8"/>
<path d="M91.0,320.2 L91.0,326.2 M89.7,320.2 L92.3,320.2 M89.7,326.2 L92.3,326.2" stroke="#7cc24a" stroke-width="0.8"/>
<circle cx="91.0" cy="323.2" r="1.5" fill="#fff" stroke="#7cc24a" stroke-width="0.8"/>
<path d="M105.0,325.8 L105.0,330.6 M103.7,325.8 L106.3,325.8 M103.7,330.6 L106.3,330.6" stroke="#7cc24a" stroke-width="0.8"/>
<circle cx="105.0" cy="328.2" r="1.5" fill="#fff" stroke="#7cc24a" stroke-width="0.8"/>
<path d="M118.7,323.0 L118.7,329.0 M117.4,323.0 L120.0,323.0 M117.4,329.0 L120.0,329.0" stroke="#7cc24a" stroke-width="0.8"/>
<circle cx="118.7" cy="326.0" r="1.5" fill="#fff" stroke="#7cc24a" stroke-width="0.8"/>
<path d="M132.9,316.7 L132.9,322.3 M131.6,316.7 L134.2,316.7 M131.6,322.3 L134.2,322.3" stroke="#7cc24a" stroke-width="0.8"/>
<circle cx="132.9" cy="319.5" r="1.5" fill="#fff" stroke="#7cc24a" stroke-width="0.8"/>
<path d="M146.7,321.9 L146.7,327.5 M145.4,321.9 L148.0,321.9 M145.4,327.5 L148.0,327.5" stroke="#7cc24a" stroke-width="0.8"/>
<circle cx="146.7" cy="324.7" r="1.5" fill="#fff" stroke="#7cc24a" stroke-width="0.8"/>
<path d="M160.8,342.1 L160.8,346.5 M159.5,342.1 L162.1,342.1 M159.5,346.5 L162.1,346.5" stroke="#7cc24a" stroke-width="0.8"/>
<circle cx="160.8" cy="344.3" r="1.5" fill="#fff" stroke="#7cc24a" stroke-width="0.8"/>
<path d="M132.6,271.7 L107,271.7" stroke="#2a8ad0" stroke-width="1"/><path d="M106,271.7 L111,269.5 L111,273.9 Z" fill="#2a8ad0"/>
<path d="M106,340.3 L131,340.3" stroke="#7cc24a" stroke-width="1"/><path d="M132,340.3 L127,338.1 L127,342.5 Z" fill="#7cc24a"/>
<text x="61.8" y="383.6" font-size="11" text-anchor="start" fill="#222" font-weight="normal" stroke="#222" stroke-width="0.22" >Dosage of CsA (µg)</text>
<text x="0" y="0" font-size="11.3" text-anchor="middle" fill="#222" font-weight="normal" stroke="#222" stroke-width="0.22" transform="translate(32.3,316.6) rotate(-90)">Loading density (µg/cm<tspan font-size="7" dy="-4">2</tspan><tspan dy="4">)</tspan></text>
<text x="0" y="0" font-size="11.2" text-anchor="middle" fill="#222" font-weight="normal" stroke="#222" stroke-width="0.22" transform="translate(194.3,312.3) rotate(-90)">Loading ratio (%)</text>
<text x="209.5" y="265.3" font-size="11.2" text-anchor="start" fill="#111" font-weight="bold" stroke="#111" stroke-width="0.3" >F</text>
<path d="M244.6,263.4 L244.6,360.8 L366,360.8 L366,263.4 Z" fill="none" stroke="#666" stroke-width="0.8"/>
<path d="M242.1,360.8 L244.6,360.8" stroke="#555" stroke-width="0.8"/>
<text x="242.3" y="364.1" font-size="8.4" text-anchor="end" fill="#222" font-weight="normal" stroke="#222" stroke-width="0.22" >0</text>
<path d="M242.1,341.3 L244.6,341.3" stroke="#555" stroke-width="0.8"/>
<text x="242.3" y="344.62" font-size="8.4" text-anchor="end" fill="#222" font-weight="normal" stroke="#222" stroke-width="0.22" >20</text>
<path d="M242.1,321.8 L244.6,321.8" stroke="#555" stroke-width="0.8"/>
<text x="242.3" y="325.14000000000004" font-size="8.4" text-anchor="end" fill="#222" font-weight="normal" stroke="#222" stroke-width="0.22" >40</text>
<path d="M242.1,302.4 L244.6,302.4" stroke="#555" stroke-width="0.8"/>
<text x="242.3" y="305.66" font-size="8.4" text-anchor="end" fill="#222" font-weight="normal" stroke="#222" stroke-width="0.22" >60</text>
<path d="M242.1,282.9 L244.6,282.9" stroke="#555" stroke-width="0.8"/>
<text x="242.3" y="286.18" font-size="8.4" text-anchor="end" fill="#222" font-weight="normal" stroke="#222" stroke-width="0.22" >80</text>
<path d="M242.1,263.4 L244.6,263.4" stroke="#555" stroke-width="0.8"/>
<text x="242.3" y="266.70000000000005" font-size="8.4" text-anchor="end" fill="#222" font-weight="normal" stroke="#222" stroke-width="0.22" >100</text>
<path d="M255.6,360.8 L255.6,362.3" stroke="#666" stroke-width="0.7"/>
<text x="255.6" y="371" font-size="8.4" text-anchor="middle" fill="#222" font-weight="normal" stroke="#222" stroke-width="0.22" >250</text>
<path d="M305.2,360.8 L305.2,362.3" stroke="#666" stroke-width="0.7"/>
<text x="305.2" y="371" font-size="8.4" text-anchor="middle" fill="#222" font-weight="normal" stroke="#222" stroke-width="0.22" >500</text>
<path d="M354.8,360.8 L354.8,362.3" stroke="#666" stroke-width="0.7"/>
<text x="354.8" y="371" font-size="8.4" text-anchor="middle" fill="#222" font-weight="normal" stroke="#222" stroke-width="0.22" >750</text>
<path d="M244.8,318 C246.4,306 249.4,288 252.9,277 C254.4,274.0 258,274.2 263,274.7 C266,274.8 268,273.8 273,273.0 C285,271.2 300,270.5 330,270.2 L366,270.0" stroke="#666666" stroke-width="1" fill="none"/>
<path d="M244.8,316 C246.0,304 249.0,288 252.5,277 C254.0,273.9 258,274.1 263,274.8 C266,274.9 268,273.7 273,272.9 C285,271.1 300,270.4 330,270.1 L366,269.9" stroke="#ff4040" stroke-width="1" fill="none"/>
<path d="M244.8,322 C246.8,310 249.8,288 253.3,277 C254.8,274.3 258,274.5 263,275.3 C266,275.4 268,274.1 273,273.3 C285,271.5 300,270.8 330,270.5 L366,270.3" stroke="#3080e0" stroke-width="1" fill="none"/>
<path d="M244.8,330 C247.4,318 250.4,288 253.9,277 C255.4,274.2 258,274.4 263,275.3 C266,275.4 268,274.0 273,273.2 C285,271.4 300,270.7 330,270.4 L366,270.2" stroke="#20a080" stroke-width="1" fill="none"/>
<path d="M244.8,320 C246.6,308 249.6,288 253.1,277 C254.6,274.1 258,274.3 263,275.4 C266,275.5 268,273.9 273,273.1 C285,271.3 300,270.6 330,270.3 L366,270.1" stroke="#c070e0" stroke-width="1" fill="none"/>
<path d="M244.8,314 C246.2,302 249.2,288 252.7,277 C254.2,273.6 258,273.8 263,275.1 C266,275.2 268,273.4 273,272.6 C285,270.8 300,270.1 330,269.8 L366,269.6" stroke="#e0a830" stroke-width="1.2" fill="none"/>
<rect x="251.7" y="291.7" width="56.5" height="49.8" fill="url(#gPhoto)"/>
<path d="M308.2,313 C300,308.5 290,304.5 281,304 C274.5,304 271.3,307.5 271.4,311 C271.8,315 275,318.5 281,321 C291,325 300,330 308.2,334 Z" fill="#1c4fb4"/>
<circle cx="279" cy="310" r="0.5" fill="#a0c0f0"/><circle cx="282" cy="308.5" r="0.5" fill="#a0c0f0"/><circle cx="284" cy="311" r="0.6" fill="#c0d8ff"/>
<text x="299.5" y="334.6" font-size="4.8" text-anchor="middle" fill="#fff" font-weight="bold" >1 cm</text>
<rect x="292" y="336" width="13" height="1.2" fill="#fff"/>
<path d="M309.3,296.2 L319,296.2" stroke="#666666" stroke-width="1"/>
<text x="320.8" y="298.7" font-size="6.9" text-anchor="start" fill="#505050" font-weight="normal" stroke="#505050" stroke-width="0.08" >CsA = 75 µg</text>
<path d="M309.3,304.2 L319,304.2" stroke="#ff4040" stroke-width="1"/>
<text x="320.8" y="306.65999999999997" font-size="6.9" text-anchor="start" fill="#f02828" font-weight="normal" stroke="#f02828" stroke-width="0.08" >CsA = 150 µg</text>
<path d="M309.3,312.1 L319,312.1" stroke="#3080e0" stroke-width="1"/>
<text x="320.8" y="314.62" font-size="6.9" text-anchor="start" fill="#2070c0" font-weight="normal" stroke="#2070c0" stroke-width="0.08" >CsA = 225 µg</text>
<path d="M309.3,320.1 L319,320.1" stroke="#20a080" stroke-width="1"/>
<text x="320.8" y="322.58" font-size="6.9" text-anchor="start" fill="#1a9060" font-weight="normal" stroke="#1a9060" stroke-width="0.08" >CsA = 300 µg</text>
<path d="M309.3,328.0 L319,328.0" stroke="#c070e0" stroke-width="1"/>
<text x="320.8" y="330.53999999999996" font-size="6.9" text-anchor="start" fill="#a040d0" font-weight="normal" stroke="#a040d0" stroke-width="0.08" >CsA = 375 µg</text>
<path d="M309.3,336.0 L319,336.0" stroke="#e0a830" stroke-width="1"/>
<text x="320.8" y="338.5" font-size="6.9" text-anchor="start" fill="#b08a20" font-weight="normal" stroke="#b08a20" stroke-width="0.08" >CsA = 450 µg</text>
<text x="308.2" y="382.3" font-size="11" text-anchor="middle" fill="#222" font-weight="normal" stroke="#222" stroke-width="0.22" >Wavelength (nm)</text>
<text x="0" y="0" font-size="11" text-anchor="middle" fill="#222" font-weight="normal" stroke="#222" stroke-width="0.22" transform="translate(225.8,311.6) rotate(-90)">Transmittance (%)</text>
<text x="379" y="265.3" font-size="11.2" text-anchor="start" fill="#111" font-weight="bold" stroke="#111" stroke-width="0.3" >G</text>
<path d="M418.3,263.3 L418.3,360.5 L540.5,360.5 L540.5,263.3 Z" fill="none" stroke="#666" stroke-width="0.8"/>
<path d="M415.8,360.5 L418.3,360.5" stroke="#555" stroke-width="0.8"/>
<text x="416" y="363.8" font-size="8.4" text-anchor="end" fill="#222" font-weight="normal" stroke="#222" stroke-width="0.22" >0</text>
<path d="M415.8,341.0 L418.3,341.0" stroke="#555" stroke-width="0.8"/>
<text x="416" y="344.3" font-size="8.4" text-anchor="end" fill="#222" font-weight="normal" stroke="#222" stroke-width="0.22" >10</text>
<path d="M415.8,321.5 L418.3,321.5" stroke="#555" stroke-width="0.8"/>
<text x="416" y="324.8" font-size="8.4" text-anchor="end" fill="#222" font-weight="normal" stroke="#222" stroke-width="0.22" >20</text>
<path d="M415.8,302.0 L418.3,302.0" stroke="#555" stroke-width="0.8"/>
<text x="416" y="305.3" font-size="8.4" text-anchor="end" fill="#222" font-weight="normal" stroke="#222" stroke-width="0.22" >30</text>
<path d="M415.8,282.5 L418.3,282.5" stroke="#555" stroke-width="0.8"/>
<text x="416" y="285.8" font-size="8.4" text-anchor="end" fill="#222" font-weight="normal" stroke="#222" stroke-width="0.22" >40</text>
<path d="M415.8,263.0 L418.3,263.0" stroke="#555" stroke-width="0.8"/>
<text x="416" y="266.3" font-size="8.4" text-anchor="end" fill="#222" font-weight="normal" stroke="#222" stroke-width="0.22" >50</text>
<path d="M418.6,360.5 L418.6,362" stroke="#666" stroke-width="0.7"/>
<text x="418.6" y="371" font-size="8.4" text-anchor="middle" fill="#222" font-weight="normal" stroke="#222" stroke-width="0.22" >0</text>
<path d="M435.9,360.5 L435.9,362" stroke="#666" stroke-width="0.7"/>
<text x="435.93" y="371" font-size="8.4" text-anchor="middle" fill="#222" font-weight="normal" stroke="#222" stroke-width="0.22" >5</text>
<path d="M453.3,360.5 L453.3,362" stroke="#666" stroke-width="0.7"/>
<text x="453.26000000000005" y="371" font-size="8.4" text-anchor="middle" fill="#222" font-weight="normal" stroke="#222" stroke-width="0.22" >10</text>
<path d="M470.6,360.5 L470.6,362" stroke="#666" stroke-width="0.7"/>
<text x="470.59000000000003" y="371" font-size="8.4" text-anchor="middle" fill="#222" font-weight="normal" stroke="#222" stroke-width="0.22" >15</text>
<path d="M487.9,360.5 L487.9,362" stroke="#666" stroke-width="0.7"/>
<text x="487.92" y="371" font-size="8.4" text-anchor="middle" fill="#222" font-weight="normal" stroke="#222" stroke-width="0.22" >20</text>
<path d="M505.2,360.5 L505.2,362" stroke="#666" stroke-width="0.7"/>
<text x="505.25" y="371" font-size="8.4" text-anchor="middle" fill="#222" font-weight="normal" stroke="#222" stroke-width="0.22" >25</text>
<path d="M522.6,360.5 L522.6,362" stroke="#666" stroke-width="0.7"/>
<text x="522.58" y="371" font-size="8.4" text-anchor="middle" fill="#222" font-weight="normal" stroke="#222" stroke-width="0.22" >30</text>
<path d="M539.9,360.5 L539.9,362" stroke="#666" stroke-width="0.7"/>
<text x="539.9100000000001" y="371" font-size="8.4" text-anchor="middle" fill="#222" font-weight="normal" stroke="#222" stroke-width="0.22" >35</text>
<path d="M418.6,354.8 L540,354.8" stroke="#ee3030" stroke-width="0.8" stroke-dasharray="2,1.5"/>
<path d="M419.47,326.57 C419.70,325.92 420.39,322.76 421.20,321.69 C422.01,320.63 424.03,319.25 425.53,318.57 C427.03,317.90 430.15,317.77 432.46,316.62 C434.77,315.48 440.09,311.81 442.86,310.00 C445.63,308.18 450.49,304.82 453.26,302.98 C456.03,301.13 458.11,297.81 463.66,296.15 C469.20,294.49 489.77,291.46 494.85,290.50 C499.94,289.53 500.86,289.14 501.78,288.94" stroke="#5e9e3c" stroke-width="1.1" fill="none"/>
<path d="M419.5,323.6 L419.5,329.5 M418.3,323.6 L420.7,323.6 M418.3,329.5 L420.7,329.5" stroke="#5e9e3c" stroke-width="0.7"/>
<circle cx="419.5" cy="326.6" r="1.6" fill="#fff" stroke="#5e9e3c" stroke-width="0.9"/>
<path d="M421.2,317.8 L421.2,325.6 M420.0,317.8 L422.4,317.8 M420.0,325.6 L422.4,325.6" stroke="#5e9e3c" stroke-width="0.7"/>
<circle cx="421.2" cy="321.7" r="1.6" fill="#fff" stroke="#5e9e3c" stroke-width="0.9"/>
<path d="M425.5,310.8 L425.5,326.4 M424.3,310.8 L426.7,310.8 M424.3,326.4 L426.7,326.4" stroke="#5e9e3c" stroke-width="0.7"/>
<circle cx="425.5" cy="318.6" r="1.6" fill="#fff" stroke="#5e9e3c" stroke-width="0.9"/>
<path d="M432.5,312.7 L432.5,320.5 M431.3,312.7 L433.7,312.7 M431.3,320.5 L433.7,320.5" stroke="#5e9e3c" stroke-width="0.7"/>
<circle cx="432.5" cy="316.6" r="1.6" fill="#fff" stroke="#5e9e3c" stroke-width="0.9"/>
<path d="M442.9,302.2 L442.9,317.8 M441.7,302.2 L444.1,302.2 M441.7,317.8 L444.1,317.8" stroke="#5e9e3c" stroke-width="0.7"/>
<circle cx="442.9" cy="310.0" r="1.6" fill="#fff" stroke="#5e9e3c" stroke-width="0.9"/>
<path d="M453.3,298.1 L453.3,307.9 M452.1,298.1 L454.5,298.1 M452.1,307.9 L454.5,307.9" stroke="#5e9e3c" stroke-width="0.7"/>
<circle cx="453.3" cy="303.0" r="1.6" fill="#fff" stroke="#5e9e3c" stroke-width="0.9"/>
<path d="M463.7,293.2 L463.7,299.1 M462.5,293.2 L464.9,293.2 M462.5,299.1 L464.9,299.1" stroke="#5e9e3c" stroke-width="0.7"/>
<circle cx="463.7" cy="296.1" r="1.6" fill="#fff" stroke="#5e9e3c" stroke-width="0.9"/>
<path d="M494.9,288.5 L494.9,292.4 M493.7,288.5 L496.1,288.5 M493.7,292.4 L496.1,292.4" stroke="#5e9e3c" stroke-width="0.7"/>
<circle cx="494.9" cy="290.5" r="1.6" fill="#fff" stroke="#5e9e3c" stroke-width="0.9"/>
<path d="M501.8,285.0 L501.8,292.8 M500.6,285.0 L503.0,285.0 M500.6,292.8 L503.0,292.8" stroke="#5e9e3c" stroke-width="0.7"/>
<circle cx="501.8" cy="288.9" r="1.6" fill="#fff" stroke="#5e9e3c" stroke-width="0.9"/>
<path d="M419.47,335.74 C419.70,335.27 420.39,333.01 421.20,332.23 C422.01,331.44 424.03,330.43 425.53,329.88 C427.03,329.34 430.15,329.01 432.46,328.13 C434.77,327.25 440.09,324.76 442.86,323.25 C445.63,321.75 450.49,317.81 453.26,316.82 C456.03,315.83 458.11,316.26 463.66,315.85 C469.20,315.43 489.77,314.25 494.85,313.70 C499.94,313.15 500.86,312.01 501.78,311.75" stroke="#f06a78" stroke-width="1.1" fill="none"/>
<path d="M419.5,332.8 L419.5,338.7 M418.3,332.8 L420.7,332.8 M418.3,338.7 L420.7,338.7" stroke="#f06a78" stroke-width="0.7"/>
<circle cx="419.5" cy="335.7" r="1.6" fill="#fff" stroke="#f06a78" stroke-width="0.9"/>
<path d="M421.2,328.3 L421.2,336.1 M420.0,328.3 L422.4,328.3 M420.0,336.1 L422.4,336.1" stroke="#f06a78" stroke-width="0.7"/>
<circle cx="421.2" cy="332.2" r="1.6" fill="#fff" stroke="#f06a78" stroke-width="0.9"/>
<path d="M425.5,326.0 L425.5,333.8 M424.3,326.0 L426.7,326.0 M424.3,333.8 L426.7,333.8" stroke="#f06a78" stroke-width="0.7"/>
<circle cx="425.5" cy="329.9" r="1.6" fill="#fff" stroke="#f06a78" stroke-width="0.9"/>
<path d="M432.5,325.2 L432.5,331.1 M431.3,325.2 L433.7,325.2 M431.3,331.1 L433.7,331.1" stroke="#f06a78" stroke-width="0.7"/>
<circle cx="432.5" cy="328.1" r="1.6" fill="#fff" stroke="#f06a78" stroke-width="0.9"/>
<path d="M442.9,320.3 L442.9,326.2 M441.7,320.3 L444.1,320.3 M441.7,326.2 L444.1,326.2" stroke="#f06a78" stroke-width="0.7"/>
<circle cx="442.9" cy="323.3" r="1.6" fill="#fff" stroke="#f06a78" stroke-width="0.9"/>
<path d="M453.3,314.9 L453.3,318.8 M452.1,314.9 L454.5,314.9 M452.1,318.8 L454.5,318.8" stroke="#f06a78" stroke-width="0.7"/>
<circle cx="453.3" cy="316.8" r="1.6" fill="#fff" stroke="#f06a78" stroke-width="0.9"/>
<path d="M463.7,312.9 L463.7,318.8 M462.5,312.9 L464.9,312.9 M462.5,318.8 L464.9,318.8" stroke="#f06a78" stroke-width="0.7"/>
<circle cx="463.7" cy="315.8" r="1.6" fill="#fff" stroke="#f06a78" stroke-width="0.9"/>
<path d="M494.9,305.9 L494.9,321.5 M493.7,305.9 L496.1,305.9 M493.7,321.5 L496.1,321.5" stroke="#f06a78" stroke-width="0.7"/>
<circle cx="494.9" cy="313.7" r="1.6" fill="#fff" stroke="#f06a78" stroke-width="0.9"/>
<path d="M501.8,307.9 L501.8,315.6 M500.6,307.9 L503.0,307.9 M500.6,315.6 L503.0,315.6" stroke="#f06a78" stroke-width="0.7"/>
<circle cx="501.8" cy="311.8" r="1.6" fill="#fff" stroke="#f06a78" stroke-width="0.9"/>
<path d="M419.47,337.30 C419.70,336.96 420.39,335.44 421.20,334.76 C422.01,334.08 424.03,332.77 425.53,332.23 C427.03,331.68 430.15,331.31 432.46,330.67 C434.77,330.02 440.09,327.90 442.86,327.35 C445.63,326.80 450.49,326.67 453.26,326.57 C456.03,326.47 458.11,326.78 463.66,326.57 C469.20,326.36 489.77,325.30 494.85,325.01 C499.94,324.72 500.86,324.50 501.78,324.43" stroke="#8a78d0" stroke-width="1.1" fill="none"/>
<path d="M419.5,333.4 L419.5,341.2 M418.3,333.4 L420.7,333.4 M418.3,341.2 L420.7,341.2" stroke="#8a78d0" stroke-width="0.7"/>
<circle cx="419.5" cy="337.3" r="1.6" fill="#fff" stroke="#8a78d0" stroke-width="0.9"/>
<path d="M421.2,330.9 L421.2,338.7 M420.0,330.9 L422.4,330.9 M420.0,338.7 L422.4,338.7" stroke="#8a78d0" stroke-width="0.7"/>
<circle cx="421.2" cy="334.8" r="1.6" fill="#fff" stroke="#8a78d0" stroke-width="0.9"/>
<path d="M425.5,329.3 L425.5,335.2 M424.3,329.3 L426.7,329.3 M424.3,335.2 L426.7,335.2" stroke="#8a78d0" stroke-width="0.7"/>
<circle cx="425.5" cy="332.2" r="1.6" fill="#fff" stroke="#8a78d0" stroke-width="0.9"/>
<path d="M432.5,327.7 L432.5,333.6 M431.3,327.7 L433.7,327.7 M431.3,333.6 L433.7,333.6" stroke="#8a78d0" stroke-width="0.7"/>
<circle cx="432.5" cy="330.7" r="1.6" fill="#fff" stroke="#8a78d0" stroke-width="0.9"/>
<path d="M442.9,324.4 L442.9,330.3 M441.7,324.4 L444.1,324.4 M441.7,330.3 L444.1,330.3" stroke="#8a78d0" stroke-width="0.7"/>
<circle cx="442.9" cy="327.4" r="1.6" fill="#fff" stroke="#8a78d0" stroke-width="0.9"/>
<path d="M453.3,323.6 L453.3,329.5 M452.1,323.6 L454.5,323.6 M452.1,329.5 L454.5,329.5" stroke="#8a78d0" stroke-width="0.7"/>
<circle cx="453.3" cy="326.6" r="1.6" fill="#fff" stroke="#8a78d0" stroke-width="0.9"/>
<path d="M463.7,323.6 L463.7,329.5 M462.5,323.6 L464.9,323.6 M462.5,329.5 L464.9,329.5" stroke="#8a78d0" stroke-width="0.7"/>
<circle cx="463.7" cy="326.6" r="1.6" fill="#fff" stroke="#8a78d0" stroke-width="0.9"/>
<path d="M494.9,322.1 L494.9,327.9 M493.7,322.1 L496.1,322.1 M493.7,327.9 L496.1,327.9" stroke="#8a78d0" stroke-width="0.7"/>
<circle cx="494.9" cy="325.0" r="1.6" fill="#fff" stroke="#8a78d0" stroke-width="0.9"/>
<path d="M501.8,321.5 L501.8,327.4 M500.6,321.5 L503.0,321.5 M500.6,327.4 L503.0,327.4" stroke="#8a78d0" stroke-width="0.7"/>
<circle cx="501.8" cy="324.4" r="1.6" fill="#fff" stroke="#8a78d0" stroke-width="0.9"/>
<path d="M419.47,346.46 C419.70,345.47 420.39,340.27 421.20,339.05 C422.01,337.83 424.03,337.87 425.53,337.30 C427.03,336.72 430.15,335.44 432.46,334.76 C434.77,334.08 440.09,333.08 442.86,332.23 C445.63,331.37 450.49,328.84 453.26,328.32 C456.03,327.81 458.11,328.43 463.66,328.32 C469.20,328.22 489.77,327.88 494.85,327.55 C499.94,327.21 500.86,326.02 501.78,325.79" stroke="#f08a20" stroke-width="1.1" fill="none"/>
<path d="M419.5,340.6 L419.5,352.3 M418.3,340.6 L420.7,340.6 M418.3,352.3 L420.7,352.3" stroke="#f08a20" stroke-width="0.7"/>
<circle cx="419.5" cy="346.5" r="1.6" fill="#fff" stroke="#f08a20" stroke-width="0.9"/>
<path d="M421.2,335.2 L421.2,342.9 M420.0,335.2 L422.4,335.2 M420.0,342.9 L422.4,342.9" stroke="#f08a20" stroke-width="0.7"/>
<circle cx="421.2" cy="339.1" r="1.6" fill="#fff" stroke="#f08a20" stroke-width="0.9"/>
<path d="M425.5,333.4 L425.5,341.2 M424.3,333.4 L426.7,333.4 M424.3,341.2 L426.7,341.2" stroke="#f08a20" stroke-width="0.7"/>
<circle cx="425.5" cy="337.3" r="1.6" fill="#fff" stroke="#f08a20" stroke-width="0.9"/>
<path d="M432.5,331.8 L432.5,337.7 M431.3,331.8 L433.7,331.8 M431.3,337.7 L433.7,337.7" stroke="#f08a20" stroke-width="0.7"/>
<circle cx="432.5" cy="334.8" r="1.6" fill="#fff" stroke="#f08a20" stroke-width="0.9"/>
<path d="M442.9,329.3 L442.9,335.2 M441.7,329.3 L444.1,329.3 M441.7,335.2 L444.1,335.2" stroke="#f08a20" stroke-width="0.7"/>
<circle cx="442.9" cy="332.2" r="1.6" fill="#fff" stroke="#f08a20" stroke-width="0.9"/>
<path d="M453.3,325.4 L453.3,331.2 M452.1,325.4 L454.5,325.4 M452.1,331.2 L454.5,331.2" stroke="#f08a20" stroke-width="0.7"/>
<circle cx="453.3" cy="328.3" r="1.6" fill="#fff" stroke="#f08a20" stroke-width="0.9"/>
<path d="M463.7,325.4 L463.7,331.2 M462.5,325.4 L464.9,325.4 M462.5,331.2 L464.9,331.2" stroke="#f08a20" stroke-width="0.7"/>
<circle cx="463.7" cy="328.3" r="1.6" fill="#fff" stroke="#f08a20" stroke-width="0.9"/>
<path d="M494.9,319.7 L494.9,335.3 M493.7,319.7 L496.1,319.7 M493.7,335.3 L496.1,335.3" stroke="#f08a20" stroke-width="0.7"/>
<circle cx="494.9" cy="327.5" r="1.6" fill="#fff" stroke="#f08a20" stroke-width="0.9"/>
<path d="M501.8,321.9 L501.8,329.7 M500.6,321.9 L503.0,321.9 M500.6,329.7 L503.0,329.7" stroke="#f08a20" stroke-width="0.7"/>
<circle cx="501.8" cy="325.8" r="1.6" fill="#fff" stroke="#f08a20" stroke-width="0.9"/>
<path d="M419.47,342.37 C419.70,342.13 420.39,340.95 421.20,340.61 C422.01,340.27 424.03,339.99 425.53,339.83 C427.03,339.67 430.15,339.78 432.46,339.44 C434.77,339.10 440.09,338.31 442.86,337.30 C445.63,336.28 450.49,332.67 453.26,331.83 C456.03,331.00 458.11,331.26 463.66,331.06 C469.20,330.85 489.77,330.51 494.85,330.27 C499.94,330.04 500.86,329.43 501.78,329.30" stroke="#48a8e8" stroke-width="1.1" fill="none"/>
<path d="M419.5,338.5 L419.5,346.3 M418.3,338.5 L420.7,338.5 M418.3,346.3 L420.7,346.3" stroke="#48a8e8" stroke-width="0.7"/>
<circle cx="419.5" cy="342.4" r="1.6" fill="#fff" stroke="#48a8e8" stroke-width="0.9"/>
<path d="M421.2,337.7 L421.2,343.5 M420.0,337.7 L422.4,337.7 M420.0,343.5 L422.4,343.5" stroke="#48a8e8" stroke-width="0.7"/>
<circle cx="421.2" cy="340.6" r="1.6" fill="#fff" stroke="#48a8e8" stroke-width="0.9"/>
<path d="M425.5,336.9 L425.5,342.8 M424.3,336.9 L426.7,336.9 M424.3,342.8 L426.7,342.8" stroke="#48a8e8" stroke-width="0.7"/>
<circle cx="425.5" cy="339.8" r="1.6" fill="#fff" stroke="#48a8e8" stroke-width="0.9"/>
<path d="M432.5,336.5 L432.5,342.4 M431.3,336.5 L433.7,336.5 M431.3,342.4 L433.7,342.4" stroke="#48a8e8" stroke-width="0.7"/>
<circle cx="432.5" cy="339.4" r="1.6" fill="#fff" stroke="#48a8e8" stroke-width="0.9"/>
<path d="M442.9,334.4 L442.9,340.2 M441.7,334.4 L444.1,334.4 M441.7,340.2 L444.1,340.2" stroke="#48a8e8" stroke-width="0.7"/>
<circle cx="442.9" cy="337.3" r="1.6" fill="#fff" stroke="#48a8e8" stroke-width="0.9"/>
<path d="M453.3,328.9 L453.3,334.8 M452.1,328.9 L454.5,328.9 M452.1,334.8 L454.5,334.8" stroke="#48a8e8" stroke-width="0.7"/>
<circle cx="453.3" cy="331.8" r="1.6" fill="#fff" stroke="#48a8e8" stroke-width="0.9"/>
<path d="M463.7,328.1 L463.7,334.0 M462.5,328.1 L464.9,328.1 M462.5,334.0 L464.9,334.0" stroke="#48a8e8" stroke-width="0.7"/>
<circle cx="463.7" cy="331.1" r="1.6" fill="#fff" stroke="#48a8e8" stroke-width="0.9"/>
<path d="M494.9,327.3 L494.9,333.2 M493.7,327.3 L496.1,327.3 M493.7,333.2 L496.1,333.2" stroke="#48a8e8" stroke-width="0.7"/>
<circle cx="494.9" cy="330.3" r="1.6" fill="#fff" stroke="#48a8e8" stroke-width="0.9"/>
<path d="M501.8,326.4 L501.8,332.2 M500.6,326.4 L503.0,326.4 M500.6,332.2 L503.0,332.2" stroke="#48a8e8" stroke-width="0.7"/>
<circle cx="501.8" cy="329.3" r="1.6" fill="#fff" stroke="#48a8e8" stroke-width="0.9"/>
<path d="M419.47,360.50 C419.70,360.50 420.39,360.50 421.20,360.50 C422.01,360.50 424.03,360.71 425.53,360.50 C427.03,360.29 430.15,359.28 432.46,358.94 C434.77,358.60 440.09,358.09 442.86,357.96 C445.63,357.83 450.49,358.33 453.26,357.96 C456.03,357.60 458.11,356.93 463.66,355.24 C469.20,353.55 489.77,346.95 494.85,345.29 C499.94,343.63 500.86,343.09 501.78,342.75" stroke="#2a6898" stroke-width="1.1" fill="none"/>
<path d="M419.5,359.9 L419.5,361.1 M418.3,359.9 L420.7,359.9 M418.3,361.1 L420.7,361.1" stroke="#2a6898" stroke-width="0.7"/>
<circle cx="419.5" cy="360.5" r="1.6" fill="#fff" stroke="#2a6898" stroke-width="0.9"/>
<path d="M421.2,359.9 L421.2,361.1 M420.0,359.9 L422.4,359.9 M420.0,361.1 L422.4,361.1" stroke="#2a6898" stroke-width="0.7"/>
<circle cx="421.2" cy="360.5" r="1.6" fill="#fff" stroke="#2a6898" stroke-width="0.9"/>
<path d="M425.5,359.9 L425.5,361.1 M424.3,359.9 L426.7,359.9 M424.3,361.1 L426.7,361.1" stroke="#2a6898" stroke-width="0.7"/>
<circle cx="425.5" cy="360.5" r="1.6" fill="#fff" stroke="#2a6898" stroke-width="0.9"/>
<path d="M432.5,356.0 L432.5,361.9 M431.3,356.0 L433.7,356.0 M431.3,361.9 L433.7,361.9" stroke="#2a6898" stroke-width="0.7"/>
<circle cx="432.5" cy="358.9" r="1.6" fill="#fff" stroke="#2a6898" stroke-width="0.9"/>
<path d="M442.9,357.0 L442.9,358.9 M441.7,357.0 L444.1,357.0 M441.7,358.9 L444.1,358.9" stroke="#2a6898" stroke-width="0.7"/>
<circle cx="442.9" cy="358.0" r="1.6" fill="#fff" stroke="#2a6898" stroke-width="0.9"/>
<path d="M453.3,356.0 L453.3,359.9 M452.1,356.0 L454.5,356.0 M452.1,359.9 L454.5,359.9" stroke="#2a6898" stroke-width="0.7"/>
<circle cx="453.3" cy="358.0" r="1.6" fill="#fff" stroke="#2a6898" stroke-width="0.9"/>
<path d="M463.7,354.3 L463.7,356.2 M462.5,354.3 L464.9,354.3 M462.5,356.2 L464.9,356.2" stroke="#2a6898" stroke-width="0.7"/>
<circle cx="463.7" cy="355.2" r="1.6" fill="#fff" stroke="#2a6898" stroke-width="0.9"/>
<path d="M494.9,343.3 L494.9,347.2 M493.7,343.3 L496.1,343.3 M493.7,347.2 L496.1,347.2" stroke="#2a6898" stroke-width="0.7"/>
<circle cx="494.9" cy="345.3" r="1.6" fill="#fff" stroke="#2a6898" stroke-width="0.9"/>
<path d="M501.8,340.8 L501.8,344.7 M500.6,340.8 L503.0,340.8 M500.6,344.7 L503.0,344.7" stroke="#2a6898" stroke-width="0.7"/>
<circle cx="501.8" cy="342.8" r="1.6" fill="#fff" stroke="#2a6898" stroke-width="0.9"/>
<path d="M509,270.3 L519.2,270.3" stroke="#5e9e3c" stroke-width="1"/><circle cx="514" cy="270.3" r="1.5" fill="#fff" stroke="#5e9e3c" stroke-width="0.9"/>
<text x="520.7" y="272.5" font-size="6.2" text-anchor="start" fill="#58a0e0" font-weight="normal" stroke="#58a0e0" stroke-width="0.05" >49 µg</text>
<path d="M509,277.6 L519.2,277.6" stroke="#f06a78" stroke-width="1"/><circle cx="514" cy="277.6" r="1.5" fill="#fff" stroke="#f06a78" stroke-width="0.9"/>
<text x="520.7" y="279.8" font-size="6.2" text-anchor="start" fill="#f06a78" font-weight="normal" stroke="#f06a78" stroke-width="0.05" >34 µg</text>
<path d="M509,284.9 L519.2,284.9" stroke="#8a78d0" stroke-width="1"/><circle cx="514" cy="284.9" r="1.5" fill="#fff" stroke="#8a78d0" stroke-width="0.9"/>
<text x="520.7" y="287.1" font-size="6.2" text-anchor="start" fill="#8a80c8" font-weight="normal" stroke="#8a80c8" stroke-width="0.05" >25 µg</text>
<path d="M509,292.2 L519.2,292.2" stroke="#f08a20" stroke-width="1"/><circle cx="514" cy="292.2" r="1.5" fill="#fff" stroke="#f08a20" stroke-width="0.9"/>
<text x="520.7" y="294.4" font-size="6.2" text-anchor="start" fill="#f0902a" font-weight="normal" stroke="#f0902a" stroke-width="0.05" >22 µg</text>
<path d="M509,299.5 L519.2,299.5" stroke="#48a8e8" stroke-width="1"/><circle cx="514" cy="299.5" r="1.5" fill="#fff" stroke="#48a8e8" stroke-width="0.9"/>
<text x="520.7" y="301.7" font-size="6.2" text-anchor="start" fill="#5a9a50" font-weight="normal" stroke="#5a9a50" stroke-width="0.05" >21 µg</text>
<path d="M509,306.8 L519.2,306.8" stroke="#2a6898" stroke-width="1"/><circle cx="514" cy="306.8" r="1.5" fill="#fff" stroke="#2a6898" stroke-width="0.9"/>
<text x="520.7" y="309.0" font-size="6.2" text-anchor="start" fill="#2a6898" font-weight="normal" stroke="#2a6898" stroke-width="0.05" >13 µg</text>
<text x="478.8" y="382.3" font-size="11" text-anchor="middle" fill="#222" font-weight="normal" stroke="#222" stroke-width="0.22" >Time (h)</text>
<text x="0" y="0" font-size="11" text-anchor="middle" fill="#222" font-weight="normal" stroke="#222" stroke-width="0.22" transform="translate(400.8,312.2) rotate(-90)">Cumulative release (µg)</text>
</svg></body></html>
